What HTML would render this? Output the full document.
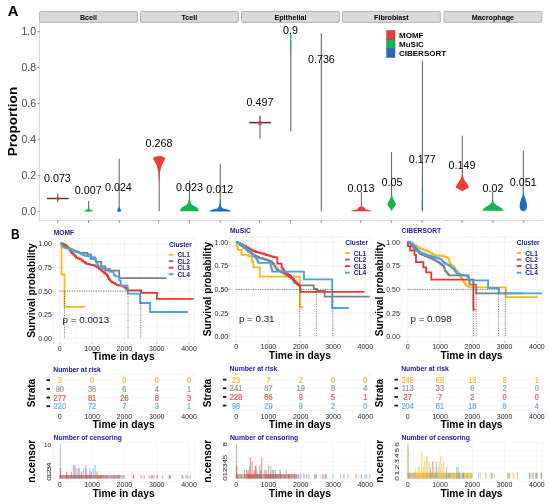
<!DOCTYPE html>
<html><head><meta charset="utf-8"><style>
html,body{margin:0;padding:0;background:#fff;}
svg{display:block;font-family:"Liberation Sans", sans-serif;filter:blur(0.45px);}
</style></head><body>
<svg width="550" height="504" viewBox="0 0 550 504">
<rect width="550" height="504" fill="#fff"/>
<text x="7.80" y="15.60" font-size="14.8" font-weight="bold" fill="#000" text-anchor="start">A</text>
<line x1="39.40" y1="22.90" x2="39.40" y2="220.60" stroke="#cfcfcf" stroke-width="0.9"/>
<line x1="37.60" y1="211.70" x2="39.40" y2="211.70" stroke="#555" stroke-width="0.7"/>
<text transform="translate(36.00,215.30) scale(0.92,1)" font-size="11.4" fill="#4a4a4a" text-anchor="end">0.0</text>
<line x1="37.60" y1="175.66" x2="39.40" y2="175.66" stroke="#555" stroke-width="0.7"/>
<text transform="translate(36.00,179.26) scale(0.92,1)" font-size="11.4" fill="#4a4a4a" text-anchor="end">0.2</text>
<line x1="37.60" y1="139.62" x2="39.40" y2="139.62" stroke="#555" stroke-width="0.7"/>
<text transform="translate(36.00,143.22) scale(0.92,1)" font-size="11.4" fill="#4a4a4a" text-anchor="end">0.4</text>
<line x1="37.60" y1="103.58" x2="39.40" y2="103.58" stroke="#555" stroke-width="0.7"/>
<text transform="translate(36.00,107.18) scale(0.92,1)" font-size="11.4" fill="#4a4a4a" text-anchor="end">0.6</text>
<line x1="37.60" y1="67.54" x2="39.40" y2="67.54" stroke="#555" stroke-width="0.7"/>
<text transform="translate(36.00,71.14) scale(0.92,1)" font-size="11.4" fill="#4a4a4a" text-anchor="end">0.8</text>
<line x1="37.60" y1="31.50" x2="39.40" y2="31.50" stroke="#555" stroke-width="0.7"/>
<text transform="translate(36.00,35.10) scale(0.92,1)" font-size="11.4" fill="#4a4a4a" text-anchor="end">1.0</text>
<text x="16.80" y="121.50" font-size="13.6" font-weight="bold" fill="#000" text-anchor="middle" transform="rotate(-90 16.8 121.5)">Proportion</text>
<rect x="39.60" y="11.40" width="97.80" height="11.00" fill="#d9d9d9" stroke="#a6a6a6" stroke-width="0.8" rx="1"/>
<text x="88.50" y="19.80" font-size="7.2" font-weight="bold" fill="#000" text-anchor="middle">Bcell</text>
<line x1="39.20" y1="220.60" x2="137.80" y2="220.60" stroke="#cfcfcf" stroke-width="0.9"/>
<line x1="57.70" y1="220.60" x2="57.70" y2="222.80" stroke="#555" stroke-width="0.7"/>
<line x1="88.50" y1="220.60" x2="88.50" y2="222.80" stroke="#555" stroke-width="0.7"/>
<line x1="119.30" y1="220.60" x2="119.30" y2="222.80" stroke="#555" stroke-width="0.7"/>
<rect x="140.50" y="11.40" width="97.80" height="11.00" fill="#d9d9d9" stroke="#a6a6a6" stroke-width="0.8" rx="1"/>
<text x="189.40" y="19.80" font-size="7.2" font-weight="bold" fill="#000" text-anchor="middle">Tcell</text>
<line x1="140.10" y1="220.60" x2="238.70" y2="220.60" stroke="#cfcfcf" stroke-width="0.9"/>
<line x1="158.60" y1="220.60" x2="158.60" y2="222.80" stroke="#555" stroke-width="0.7"/>
<line x1="189.40" y1="220.60" x2="189.40" y2="222.80" stroke="#555" stroke-width="0.7"/>
<line x1="220.20" y1="220.60" x2="220.20" y2="222.80" stroke="#555" stroke-width="0.7"/>
<rect x="241.50" y="11.40" width="97.80" height="11.00" fill="#d9d9d9" stroke="#a6a6a6" stroke-width="0.8" rx="1"/>
<text x="290.40" y="19.80" font-size="7.2" font-weight="bold" fill="#000" text-anchor="middle">Epithelial</text>
<line x1="241.10" y1="220.60" x2="339.70" y2="220.60" stroke="#cfcfcf" stroke-width="0.9"/>
<line x1="259.60" y1="220.60" x2="259.60" y2="222.80" stroke="#555" stroke-width="0.7"/>
<line x1="290.40" y1="220.60" x2="290.40" y2="222.80" stroke="#555" stroke-width="0.7"/>
<line x1="321.20" y1="220.60" x2="321.20" y2="222.80" stroke="#555" stroke-width="0.7"/>
<rect x="342.50" y="11.40" width="97.80" height="11.00" fill="#d9d9d9" stroke="#a6a6a6" stroke-width="0.8" rx="1"/>
<text x="391.40" y="19.80" font-size="7.2" font-weight="bold" fill="#000" text-anchor="middle">Fibroblast</text>
<line x1="342.10" y1="220.60" x2="440.70" y2="220.60" stroke="#cfcfcf" stroke-width="0.9"/>
<line x1="360.60" y1="220.60" x2="360.60" y2="222.80" stroke="#555" stroke-width="0.7"/>
<line x1="391.40" y1="220.60" x2="391.40" y2="222.80" stroke="#555" stroke-width="0.7"/>
<line x1="422.20" y1="220.60" x2="422.20" y2="222.80" stroke="#555" stroke-width="0.7"/>
<rect x="444.00" y="11.40" width="97.80" height="11.00" fill="#d9d9d9" stroke="#a6a6a6" stroke-width="0.8" rx="1"/>
<text x="492.90" y="19.80" font-size="7.2" font-weight="bold" fill="#000" text-anchor="middle">Macrophage</text>
<line x1="443.60" y1="220.60" x2="542.20" y2="220.60" stroke="#cfcfcf" stroke-width="0.9"/>
<line x1="462.10" y1="220.60" x2="462.10" y2="222.80" stroke="#555" stroke-width="0.7"/>
<line x1="492.90" y1="220.60" x2="492.90" y2="222.80" stroke="#555" stroke-width="0.7"/>
<line x1="523.70" y1="220.60" x2="523.70" y2="222.80" stroke="#555" stroke-width="0.7"/>
<line x1="57.80" y1="193.60" x2="57.80" y2="202.40" stroke="#5c5c5c" stroke-width="1.0"/>
<line x1="46.90" y1="198.50" x2="68.70" y2="198.50" stroke="#5a2c2c" stroke-width="1.4"/>
<path d="M55.8,198.5 L57.8,196.3 L59.8,198.5 L57.8,200.7 Z" fill="#EE3B33" stroke="none" stroke-width="1"/>
<line x1="88.60" y1="201.00" x2="88.60" y2="211.30" stroke="#5c5c5c" stroke-width="1.0"/>
<path d="M83.8,211.6 Q85.5,210.2 87.4,209.3 Q88.4,208.5 88.45,207 L88.6,205.5 L88.75,207 Q88.8,208.5 89.8,209.3 Q91.7,210.2 93.4,211.6 Z" fill="#12B64F" stroke="none" stroke-width="1" stroke="#333" stroke-width="0.45"/>
<line x1="119.20" y1="158.60" x2="119.20" y2="211.30" stroke="#5c5c5c" stroke-width="1.0"/>
<path d="M119.1,206.3 Q119.3,208 120.6,209.3 Q121.5,210.5 120.6,211.4 Q119.1,212 117.6,211.4 Q116.7,210.5 117.6,209.3 Q118.9,208 119.1,206.3 Z" fill="#1B6DC2" stroke="none" stroke-width="1" stroke="#333" stroke-width="0.45"/>
<text transform="translate(57.40,181.80) scale(0.96,1)" font-size="11.2" fill="#000" text-anchor="middle">0.073</text>
<text transform="translate(88.30,194.20) scale(0.96,1)" font-size="11.2" fill="#000" text-anchor="middle">0.007</text>
<text transform="translate(118.40,191.00) scale(0.96,1)" font-size="11.2" fill="#000" text-anchor="middle">0.024</text>
<line x1="159.20" y1="170.00" x2="159.20" y2="211.20" stroke="#5c5c5c" stroke-width="1.0"/>
<path d="M153.0,158.5 Q154.5,156.2 159.2,156.0 Q163.9,156.2 165.3,158.5 Q161.5,164 160.0,172 L159.5,181 L158.9,181 L158.4,172 Q156.9,164 153.0,158.5 Z" fill="#EE3B33" stroke="none" stroke-width="1" stroke="#333" stroke-width="0.45"/>
<line x1="189.40" y1="180.40" x2="189.40" y2="211.00" stroke="#5c5c5c" stroke-width="1.0"/>
<path d="M180.0,211.2 Q180.5,207 186.5,205 Q188.8,203 189.0,196 L189.4,190 L189.8,196 Q190.0,203 192.3,205 Q198.3,207 198.8,211.2 Z" fill="#12B64F" stroke="none" stroke-width="1" stroke="#333" stroke-width="0.45"/>
<line x1="220.20" y1="164.00" x2="220.20" y2="211.20" stroke="#5c5c5c" stroke-width="1.0"/>
<path d="M209.4,211.4 Q211.5,209.3 217.5,208.6 Q219.6,207.2 219.8,203 L220.2,198 L220.6,203 Q220.8,207.2 222.9,208.6 Q229,209.3 231.0,211.4 Z" fill="#1B6DC2" stroke="none" stroke-width="1" stroke="#333" stroke-width="0.45"/>
<text transform="translate(159.00,147.00) scale(0.96,1)" font-size="11.2" fill="#000" text-anchor="middle">0.268</text>
<text transform="translate(189.50,190.80) scale(0.96,1)" font-size="11.2" fill="#000" text-anchor="middle">0.023</text>
<text transform="translate(219.70,193.30) scale(0.96,1)" font-size="11.2" fill="#000" text-anchor="middle">0.012</text>
<line x1="260.00" y1="122.60" x2="260.00" y2="138.70" stroke="#5c5c5c" stroke-width="1.0"/>
<line x1="260.00" y1="115.80" x2="260.00" y2="124.00" stroke="#8a2b2b" stroke-width="1.3"/>
<line x1="249.30" y1="122.60" x2="270.90" y2="122.60" stroke="#6a2626" stroke-width="1.5"/>
<path d="M257.8,124.8 L260,120.8 L262.2,124.8 Z" fill="#EE3B33" stroke="none" stroke-width="1"/>
<line x1="290.80" y1="40.00" x2="290.80" y2="131.60" stroke="#5c5c5c" stroke-width="1.0"/>
<path d="M290.1,35 Q290.6,33.8 290.8,33.8 Q291.0,33.8 291.5,35 L291.2,50 L290.8,56 L290.4,50 Z" fill="#12B64F" stroke="none" stroke-width="1"/>
<line x1="321.30" y1="33.50" x2="321.30" y2="211.20" stroke="#4a4a4a" stroke-width="0.9"/>
<text transform="translate(260.00,106.00) scale(0.96,1)" font-size="11.2" fill="#000" text-anchor="middle">0.497</text>
<text transform="translate(290.40,33.90) scale(0.96,1)" font-size="11.2" fill="#000" text-anchor="middle">0.9</text>
<text transform="translate(321.40,63.30) scale(0.96,1)" font-size="11.2" fill="#000" text-anchor="middle">0.736</text>
<line x1="361.40" y1="192.00" x2="361.40" y2="210.50" stroke="#5c5c5c" stroke-width="1.0"/>
<path d="M350.4,211.3 Q352,210.2 357,209.6 Q358.5,206.4 361.4,206.2 Q364.3,206.4 365.8,209.6 Q370.8,210.2 372.4,211.3 Z" fill="#EE3B33" stroke="none" stroke-width="1" stroke="#333" stroke-width="0.45"/>
<line x1="391.60" y1="152.00" x2="391.60" y2="210.50" stroke="#5c5c5c" stroke-width="1.0"/>
<path d="M391.6,193.5 Q392.2,198 395.2,202.5 Q396.2,204 395.5,205.5 Q393,208 391.6,211 Q390.2,208 387.7,205.5 Q387,204 388,202.5 Q391,198 391.6,193.5 Z" fill="#12B64F" stroke="none" stroke-width="1" stroke="#333" stroke-width="0.45"/>
<line x1="422.40" y1="60.70" x2="422.40" y2="211.20" stroke="#5c5c5c" stroke-width="1.0"/>
<path d="M421.8,211.3 L421.9,190 L422.3,170 L422.6,170 L422.9,190 L423.0,211.3 Z" fill="#1B6DC2" stroke="none" stroke-width="1"/>
<text transform="translate(361.00,192.40) scale(0.96,1)" font-size="11.2" fill="#000" text-anchor="middle">0.013</text>
<text transform="translate(392.00,186.00) scale(0.96,1)" font-size="11.2" fill="#000" text-anchor="middle">0.05</text>
<text transform="translate(422.30,163.00) scale(0.96,1)" font-size="11.2" fill="#000" text-anchor="middle">0.177</text>
<line x1="462.30" y1="135.60" x2="462.30" y2="175.00" stroke="#5c5c5c" stroke-width="1.0"/>
<path d="M462.3,171 Q462.8,178 465.5,181.5 Q468.8,185.5 468.6,188 Q465,189.5 462.3,191.2 Q459.6,189.5 456,188 Q455.8,185.5 459.1,181.5 Q461.8,178 462.3,171 Z" fill="#EE3B33" stroke="none" stroke-width="1" stroke="#333" stroke-width="0.45"/>
<line x1="492.70" y1="191.90" x2="492.70" y2="205.00" stroke="#5c5c5c" stroke-width="1.0"/>
<path d="M482.2,210.8 Q483,208 488.5,205.5 Q492,203.5 492.4,200.5 L492.7,199 L493.0,200.5 Q493.4,203.5 496.9,205.5 Q502.4,208 503.6,210.8 Z" fill="#12B64F" stroke="none" stroke-width="1" stroke="#333" stroke-width="0.45"/>
<line x1="523.30" y1="150.80" x2="523.30" y2="192.00" stroke="#5c5c5c" stroke-width="1.0"/>
<path d="M523.3,188.5 Q523.6,195 525.6,199.5 Q527.6,204 526.8,208 Q525.5,211.3 523.3,211.3 Q521.1,211.3 519.8,208 Q519,204 521,199.5 Q523,195 523.3,188.5 Z" fill="#1B6DC2" stroke="none" stroke-width="1" stroke="#333" stroke-width="0.45"/>
<text transform="translate(462.00,169.00) scale(0.96,1)" font-size="11.2" fill="#000" text-anchor="middle">0.149</text>
<text transform="translate(492.90,191.90) scale(0.96,1)" font-size="11.2" fill="#000" text-anchor="middle">0.02</text>
<text transform="translate(523.20,186.25) scale(0.96,1)" font-size="11.2" fill="#000" text-anchor="middle">0.051</text>
<rect x="386.60" y="30.40" width="8.40" height="9.05" fill="#EE3B33" stroke="#555" stroke-width="0.45"/>
<text x="399.00" y="37.90" font-size="8.0" font-weight="bold" fill="#000" text-anchor="start">MOMF</text>
<rect x="386.60" y="39.45" width="8.40" height="9.05" fill="#12B64F" stroke="#555" stroke-width="0.45"/>
<text x="399.00" y="46.95" font-size="8.0" font-weight="bold" fill="#000" text-anchor="start">MuSiC</text>
<rect x="386.60" y="48.50" width="8.40" height="9.05" fill="#1B6DC2" stroke="#555" stroke-width="0.45"/>
<text x="399.00" y="56.00" font-size="8.0" font-weight="bold" fill="#000" text-anchor="start">CIBERSORT</text>
<text transform="translate(10.9,239.0) scale(0.86,1)" font-size="14" font-weight="bold">B</text>
<text transform="translate(53.70,234.90) scale(0.92,1)" font-size="7.3" font-weight="bold" fill="#1a1aa6" text-anchor="start">MOMF</text>
<rect x="53.20" y="238.50" width="141.00" height="104.50" fill="#ffffff" stroke="#ececec" stroke-width="0.6"/>
<line x1="75.95" y1="238.50" x2="75.95" y2="343.00" stroke="#f5f5f5" stroke-width="0.5"/>
<line x1="108.25" y1="238.50" x2="108.25" y2="343.00" stroke="#f5f5f5" stroke-width="0.5"/>
<line x1="140.55" y1="238.50" x2="140.55" y2="343.00" stroke="#f5f5f5" stroke-width="0.5"/>
<line x1="172.85" y1="238.50" x2="172.85" y2="343.00" stroke="#f5f5f5" stroke-width="0.5"/>
<line x1="53.20" y1="326.49" x2="194.20" y2="326.49" stroke="#f5f5f5" stroke-width="0.5"/>
<line x1="53.20" y1="302.86" x2="194.20" y2="302.86" stroke="#f5f5f5" stroke-width="0.5"/>
<line x1="53.20" y1="279.24" x2="194.20" y2="279.24" stroke="#f5f5f5" stroke-width="0.5"/>
<line x1="53.20" y1="255.61" x2="194.20" y2="255.61" stroke="#f5f5f5" stroke-width="0.5"/>
<line x1="59.80" y1="238.50" x2="59.80" y2="343.00" stroke="#ededed" stroke-width="0.7"/>
<line x1="92.10" y1="238.50" x2="92.10" y2="343.00" stroke="#ededed" stroke-width="0.7"/>
<line x1="124.40" y1="238.50" x2="124.40" y2="343.00" stroke="#ededed" stroke-width="0.7"/>
<line x1="156.70" y1="238.50" x2="156.70" y2="343.00" stroke="#ededed" stroke-width="0.7"/>
<line x1="189.00" y1="238.50" x2="189.00" y2="343.00" stroke="#ededed" stroke-width="0.7"/>
<line x1="53.20" y1="338.30" x2="194.20" y2="338.30" stroke="#ededed" stroke-width="0.7"/>
<line x1="53.20" y1="314.68" x2="194.20" y2="314.68" stroke="#ededed" stroke-width="0.7"/>
<line x1="53.20" y1="291.05" x2="194.20" y2="291.05" stroke="#ededed" stroke-width="0.7"/>
<line x1="53.20" y1="267.43" x2="194.20" y2="267.43" stroke="#ededed" stroke-width="0.7"/>
<line x1="53.20" y1="243.80" x2="194.20" y2="243.80" stroke="#ededed" stroke-width="0.7"/>
<text x="51.90" y="340.80" font-size="7.0" fill="#262626" text-anchor="end">0.00</text>
<line x1="51.80" y1="338.30" x2="53.20" y2="338.30" stroke="#777" stroke-width="0.5"/>
<text x="51.90" y="317.18" font-size="7.0" fill="#262626" text-anchor="end">0.25</text>
<line x1="51.80" y1="314.68" x2="53.20" y2="314.68" stroke="#777" stroke-width="0.5"/>
<text x="51.90" y="293.55" font-size="7.0" fill="#262626" text-anchor="end">0.50</text>
<line x1="51.80" y1="291.05" x2="53.20" y2="291.05" stroke="#777" stroke-width="0.5"/>
<text x="51.90" y="269.93" font-size="7.0" fill="#262626" text-anchor="end">0.75</text>
<line x1="51.80" y1="267.43" x2="53.20" y2="267.43" stroke="#777" stroke-width="0.5"/>
<text x="51.90" y="246.30" font-size="7.0" fill="#262626" text-anchor="end">1.00</text>
<line x1="51.80" y1="243.80" x2="53.20" y2="243.80" stroke="#777" stroke-width="0.5"/>
<text x="59.80" y="350.60" font-size="7.0" fill="#262626" text-anchor="middle">0</text>
<line x1="59.80" y1="343.00" x2="59.80" y2="344.30" stroke="#777" stroke-width="0.5"/>
<text x="92.10" y="350.60" font-size="7.0" fill="#262626" text-anchor="middle">1000</text>
<line x1="92.10" y1="343.00" x2="92.10" y2="344.30" stroke="#777" stroke-width="0.5"/>
<text x="124.40" y="350.60" font-size="7.0" fill="#262626" text-anchor="middle">2000</text>
<line x1="124.40" y1="343.00" x2="124.40" y2="344.30" stroke="#777" stroke-width="0.5"/>
<text x="156.70" y="350.60" font-size="7.0" fill="#262626" text-anchor="middle">3000</text>
<line x1="156.70" y1="343.00" x2="156.70" y2="344.30" stroke="#777" stroke-width="0.5"/>
<text x="189.00" y="350.60" font-size="7.0" fill="#262626" text-anchor="middle">4000</text>
<line x1="189.00" y1="343.00" x2="189.00" y2="344.30" stroke="#777" stroke-width="0.5"/>
<text x="123.60" y="360.30" font-size="10.3" font-weight="bold" fill="#000" text-anchor="middle">Time in days</text>
<text x="35.00" y="290.60" font-size="10.2" font-weight="bold" fill="#000" text-anchor="middle" transform="rotate(-90 35.0 290.6)">Survival probability</text>
<path d="M60.50,243.50 H61.60 V243.50 H61.60 V274.50 H64.50 V274.50 H64.50 V306.80 H85.10 V306.80" fill="none" stroke="#FDB913" stroke-width="1.8" stroke-linejoin="miter"/>
<path d="M60.50,243.50 H62.30 V245.80 H63.75 V246.70 H65.20 V247.60 H66.63 V247.93 H68.07 V248.27 H69.50 V248.60 H70.97 V249.33 H72.43 V250.07 H73.90 V250.80 H75.60 V251.50 H77.30 V252.20 H79.00 V252.90 H87.40 V252.90 H87.40 V254.40 H90.90 V254.40 H90.90 V258.90 H95.90 V258.90 H95.90 V261.90 H101.30 V261.90 H101.30 V266.30 H105.30 V266.30 H105.30 V270.60 H119.20 V270.60 H119.20 V278.20 H166.50 V278.20" fill="none" stroke="#7f7f7f" stroke-width="1.8" stroke-linejoin="miter"/>
<path d="M60.50,243.50 H62.50 V244.20 H64.50 V244.90 H65.95 V246.20 H67.40 V247.50 H68.85 V249.50 H70.30 V251.50 H71.75 V253.10 H73.20 V254.70 H74.65 V256.15 H76.10 V257.60 H77.90 V258.35 H79.70 V259.10 H81.55 V260.55 H83.40 V262.00 H84.85 V262.90 H86.30 V263.80 H88.00 V264.17 H89.70 V264.53 H91.40 V264.90 H92.65 V265.10 H93.90 V265.30 H95.40 V266.30 H96.90 V267.30 H98.85 V268.80 H100.80 V270.30 H102.30 V271.55 H103.80 V272.80 H105.30 V273.80 H106.80 V274.80 H107.47 V276.27 H108.13 V277.73 H108.80 V279.20 H109.80 V280.45 H110.80 V281.70 H112.25 V282.45 H113.70 V283.20 H115.20 V284.20 H116.70 V285.20 H118.37 V285.37 H120.03 V285.53 H121.70 V285.70 H123.15 V286.70 H124.60 V287.70 H126.15 V289.05 H127.70 V290.40 H141.20 V290.40 H141.20 V292.90 H156.90 V292.90 H156.90 V298.80 H193.50 V298.80" fill="none" stroke="#EA3430" stroke-width="1.8" stroke-linejoin="miter"/>
<path d="M60.50,243.50 H61.40 V244.95 H62.30 V246.40 H63.75 V247.30 H65.20 V248.20 H66.63 V248.43 H68.07 V248.67 H69.50 V248.90 H70.97 V249.77 H72.43 V250.63 H73.90 V251.50 H75.70 V251.85 H77.50 V252.20 H79.35 V253.30 H81.20 V254.40 H82.63 V254.87 H84.07 V255.33 H85.50 V255.80 H86.97 V256.12 H88.45 V256.45 H89.93 V256.78 H91.40 V257.10 H94.90 V257.10 H94.90 V259.90 H95.90 V261.40 H96.90 V262.90 H97.40 V264.35 H97.90 V265.80 H99.53 V266.80 H101.17 V267.80 H102.80 V268.80 H109.80 V268.80 H109.80 V271.80 H113.70 V271.80 H113.70 V274.80 H115.20 V276.30 H119.20 V276.30 H119.20 V280.70 H120.70 V280.70 H120.70 V285.70 H127.70 V285.70 H127.70 V293.70 H140.00 V293.70 H140.00 V303.00 H150.10 V303.00 H150.10 V312.00 H187.90 V312.00" fill="none" stroke="#4AA1E2" stroke-width="1.8" stroke-linejoin="miter"/>
<line x1="59.80" y1="291.05" x2="141.00" y2="291.05" stroke="#555" stroke-width="0.8" stroke-dasharray="1.1,1.3"/>
<line x1="64.50" y1="291.05" x2="64.50" y2="338.30" stroke="#555" stroke-width="0.8" stroke-dasharray="1.1,1.3"/>
<line x1="128.00" y1="291.05" x2="128.00" y2="338.30" stroke="#555" stroke-width="0.8" stroke-dasharray="1.1,1.3"/>
<line x1="140.70" y1="291.05" x2="140.70" y2="338.30" stroke="#555" stroke-width="0.8" stroke-dasharray="1.1,1.3"/>
<rect x="166.70" y="239.10" width="27.30" height="38.50" fill="#ffffff" stroke="none" stroke-width="0"/>
<text transform="translate(168.90,247.00) scale(0.95,1)" font-size="7.0" font-weight="bold" fill="#1a1aa6" text-anchor="start">Cluster</text>
<line x1="168.70" y1="254.60" x2="173.50" y2="254.60" stroke="#FDB913" stroke-width="1.9"/>
<text transform="translate(177.40,257.30) scale(0.95,1)" font-size="7.0" font-weight="bold" fill="#1a1aa6" text-anchor="start">CL1</text>
<line x1="168.70" y1="261.15" x2="173.50" y2="261.15" stroke="#7f7f7f" stroke-width="1.9"/>
<text transform="translate(177.40,263.85) scale(0.95,1)" font-size="7.0" font-weight="bold" fill="#1a1aa6" text-anchor="start">CL2</text>
<line x1="168.70" y1="267.70" x2="173.50" y2="267.70" stroke="#EA3430" stroke-width="1.9"/>
<text transform="translate(177.40,270.40) scale(0.95,1)" font-size="7.0" font-weight="bold" fill="#1a1aa6" text-anchor="start">CL3</text>
<line x1="168.70" y1="274.25" x2="173.50" y2="274.25" stroke="#4AA1E2" stroke-width="1.9"/>
<text transform="translate(177.40,276.95) scale(0.95,1)" font-size="7.0" font-weight="bold" fill="#1a1aa6" text-anchor="start">CL4</text>
<text x="62.60" y="323.20" font-size="9.8" fill="#1a1a1a" text-anchor="start">p = 0.0013</text>
<text x="53.30" y="371.90" font-size="6.8" font-weight="bold" fill="#1a1aa6" text-anchor="start">Number at risk</text>
<rect x="52.70" y="374.70" width="141.80" height="36.30" fill="#ffffff" stroke="#ededed" stroke-width="0.5"/>
<line x1="59.80" y1="374.70" x2="59.80" y2="411.00" stroke="#f0f0f0" stroke-width="0.6"/>
<line x1="92.10" y1="374.70" x2="92.10" y2="411.00" stroke="#f0f0f0" stroke-width="0.6"/>
<line x1="124.40" y1="374.70" x2="124.40" y2="411.00" stroke="#f0f0f0" stroke-width="0.6"/>
<line x1="156.70" y1="374.70" x2="156.70" y2="411.00" stroke="#f0f0f0" stroke-width="0.6"/>
<line x1="189.00" y1="374.70" x2="189.00" y2="411.00" stroke="#f0f0f0" stroke-width="0.6"/>
<line x1="52.70" y1="380.20" x2="194.50" y2="380.20" stroke="#f0f0f0" stroke-width="0.6"/>
<rect x="46.60" y="379.30" width="3.40" height="1.80" fill="#111" stroke="none" stroke-width="0"/>
<text transform="translate(59.80,383.20) scale(0.88,1)" font-size="8.5" fill="#F5BE2A" text-anchor="middle" stroke="#F5BE2A" stroke-width="0.25">3</text>
<text transform="translate(92.10,383.20) scale(0.88,1)" font-size="8.5" fill="#F5BE2A" text-anchor="middle" stroke="#F5BE2A" stroke-width="0.25">0</text>
<text transform="translate(124.40,383.20) scale(0.88,1)" font-size="8.5" fill="#F5BE2A" text-anchor="middle" stroke="#F5BE2A" stroke-width="0.25">0</text>
<text transform="translate(156.70,383.20) scale(0.88,1)" font-size="8.5" fill="#F5BE2A" text-anchor="middle" stroke="#F5BE2A" stroke-width="0.25">0</text>
<text transform="translate(189.00,383.20) scale(0.88,1)" font-size="8.5" fill="#F5BE2A" text-anchor="middle" stroke="#F5BE2A" stroke-width="0.25">0</text>
<line x1="52.70" y1="388.87" x2="194.50" y2="388.87" stroke="#f0f0f0" stroke-width="0.6"/>
<rect x="46.60" y="387.97" width="3.40" height="1.80" fill="#111" stroke="none" stroke-width="0"/>
<text transform="translate(59.80,391.87) scale(0.88,1)" font-size="8.5" fill="#9a9a9a" text-anchor="middle" stroke="#9a9a9a" stroke-width="0.25">90</text>
<text transform="translate(92.10,391.87) scale(0.88,1)" font-size="8.5" fill="#9a9a9a" text-anchor="middle" stroke="#9a9a9a" stroke-width="0.25">36</text>
<text transform="translate(124.40,391.87) scale(0.88,1)" font-size="8.5" fill="#9a9a9a" text-anchor="middle" stroke="#9a9a9a" stroke-width="0.25">6</text>
<text transform="translate(156.70,391.87) scale(0.88,1)" font-size="8.5" fill="#9a9a9a" text-anchor="middle" stroke="#9a9a9a" stroke-width="0.25">4</text>
<text transform="translate(189.00,391.87) scale(0.88,1)" font-size="8.5" fill="#9a9a9a" text-anchor="middle" stroke="#9a9a9a" stroke-width="0.25">1</text>
<line x1="52.70" y1="397.54" x2="194.50" y2="397.54" stroke="#f0f0f0" stroke-width="0.6"/>
<rect x="46.60" y="396.64" width="3.40" height="1.80" fill="#111" stroke="none" stroke-width="0"/>
<text transform="translate(59.80,400.54) scale(0.88,1)" font-size="8.5" fill="#EE5A55" text-anchor="middle" stroke="#EE5A55" stroke-width="0.25">277</text>
<text transform="translate(92.10,400.54) scale(0.88,1)" font-size="8.5" fill="#EE5A55" text-anchor="middle" stroke="#EE5A55" stroke-width="0.25">81</text>
<text transform="translate(124.40,400.54) scale(0.88,1)" font-size="8.5" fill="#EE5A55" text-anchor="middle" stroke="#EE5A55" stroke-width="0.25">26</text>
<text transform="translate(156.70,400.54) scale(0.88,1)" font-size="8.5" fill="#EE5A55" text-anchor="middle" stroke="#EE5A55" stroke-width="0.25">8</text>
<text transform="translate(189.00,400.54) scale(0.88,1)" font-size="8.5" fill="#EE5A55" text-anchor="middle" stroke="#EE5A55" stroke-width="0.25">3</text>
<line x1="52.70" y1="406.21" x2="194.50" y2="406.21" stroke="#f0f0f0" stroke-width="0.6"/>
<rect x="46.60" y="405.31" width="3.40" height="1.80" fill="#111" stroke="none" stroke-width="0"/>
<text transform="translate(59.80,409.21) scale(0.88,1)" font-size="8.5" fill="#6FB2E8" text-anchor="middle" stroke="#6FB2E8" stroke-width="0.25">220</text>
<text transform="translate(92.10,409.21) scale(0.88,1)" font-size="8.5" fill="#6FB2E8" text-anchor="middle" stroke="#6FB2E8" stroke-width="0.25">72</text>
<text transform="translate(124.40,409.21) scale(0.88,1)" font-size="8.5" fill="#6FB2E8" text-anchor="middle" stroke="#6FB2E8" stroke-width="0.25">7</text>
<text transform="translate(156.70,409.21) scale(0.88,1)" font-size="8.5" fill="#6FB2E8" text-anchor="middle" stroke="#6FB2E8" stroke-width="0.25">3</text>
<text transform="translate(189.00,409.21) scale(0.88,1)" font-size="8.5" fill="#6FB2E8" text-anchor="middle" stroke="#6FB2E8" stroke-width="0.25">1</text>
<text x="59.80" y="418.70" font-size="7.0" fill="#262626" text-anchor="middle">0</text>
<text x="92.10" y="418.70" font-size="7.0" fill="#262626" text-anchor="middle">1000</text>
<text x="124.40" y="418.70" font-size="7.0" fill="#262626" text-anchor="middle">2000</text>
<text x="156.70" y="418.70" font-size="7.0" fill="#262626" text-anchor="middle">3000</text>
<text x="189.00" y="418.70" font-size="7.0" fill="#262626" text-anchor="middle">4000</text>
<text x="35.10" y="393.00" font-size="10.0" font-weight="bold" fill="#000" text-anchor="middle" transform="rotate(-90 35.1 393.0)">Strata</text>
<text x="123.60" y="427.70" font-size="10.3" font-weight="bold" fill="#000" text-anchor="middle">Time in days</text>
<text x="53.60" y="439.80" font-size="6.8" font-weight="bold" fill="#1a1aa6" text-anchor="start">Number of censoring</text>
<rect x="53.60" y="442.70" width="140.90" height="38.80" fill="#ffffff" stroke="#ededed" stroke-width="0.5"/>
<line x1="59.80" y1="442.70" x2="59.80" y2="481.50" stroke="#f0f0f0" stroke-width="0.6"/>
<line x1="92.10" y1="442.70" x2="92.10" y2="481.50" stroke="#f0f0f0" stroke-width="0.6"/>
<line x1="124.40" y1="442.70" x2="124.40" y2="481.50" stroke="#f0f0f0" stroke-width="0.6"/>
<line x1="156.70" y1="442.70" x2="156.70" y2="481.50" stroke="#f0f0f0" stroke-width="0.6"/>
<line x1="189.00" y1="442.70" x2="189.00" y2="481.50" stroke="#f0f0f0" stroke-width="0.6"/>
<line x1="53.20" y1="478.50" x2="194.20" y2="478.50" stroke="#f0f0f0" stroke-width="0.5"/>
<line x1="53.20" y1="475.10" x2="194.20" y2="475.10" stroke="#f0f0f0" stroke-width="0.5"/>
<line x1="53.20" y1="471.70" x2="194.20" y2="471.70" stroke="#f0f0f0" stroke-width="0.5"/>
<line x1="53.20" y1="468.30" x2="194.20" y2="468.30" stroke="#f0f0f0" stroke-width="0.5"/>
<line x1="53.20" y1="464.90" x2="194.20" y2="464.90" stroke="#f0f0f0" stroke-width="0.5"/>
<text x="51.00" y="446.70" font-size="6.2" fill="#222" text-anchor="end">10</text>
<text transform="translate(50.90,478.50) rotate(-90) scale(1.6,1)" font-size="5.3" fill="#1a1a1a" text-anchor="middle">0</text>
<text transform="translate(50.90,475.10) rotate(-90) scale(1.6,1)" font-size="5.3" fill="#1a1a1a" text-anchor="middle">1</text>
<text transform="translate(50.90,471.70) rotate(-90) scale(1.6,1)" font-size="5.3" fill="#1a1a1a" text-anchor="middle">2</text>
<text transform="translate(50.90,468.30) rotate(-90) scale(1.6,1)" font-size="5.3" fill="#1a1a1a" text-anchor="middle">3</text>
<text transform="translate(50.90,464.90) rotate(-90) scale(1.6,1)" font-size="5.3" fill="#1a1a1a" text-anchor="middle">4</text>
<rect x="59.20" y="475.10" width="1.20" height="3.40" fill="#EA3430" stroke="none" stroke-width="0" fill-opacity="0.5"/>
<rect x="59.81" y="475.10" width="1.20" height="3.40" fill="#7f7f7f" stroke="none" stroke-width="0" fill-opacity="0.5"/>
<rect x="60.38" y="475.10" width="1.20" height="3.40" fill="#EA3430" stroke="none" stroke-width="0" fill-opacity="0.5"/>
<rect x="61.00" y="475.10" width="1.20" height="3.40" fill="#EA3430" stroke="none" stroke-width="0" fill-opacity="0.5"/>
<rect x="61.59" y="475.10" width="1.20" height="3.40" fill="#4AA1E2" stroke="none" stroke-width="0" fill-opacity="0.5"/>
<rect x="62.32" y="475.10" width="1.20" height="3.40" fill="#EA3430" stroke="none" stroke-width="0" fill-opacity="0.5"/>
<rect x="62.80" y="475.10" width="1.20" height="3.40" fill="#EA3430" stroke="none" stroke-width="0" fill-opacity="0.5"/>
<rect x="63.54" y="475.10" width="1.20" height="3.40" fill="#4AA1E2" stroke="none" stroke-width="0" fill-opacity="0.5"/>
<rect x="63.89" y="475.10" width="1.20" height="3.40" fill="#7f7f7f" stroke="none" stroke-width="0" fill-opacity="0.5"/>
<rect x="64.71" y="475.10" width="1.20" height="3.40" fill="#4AA1E2" stroke="none" stroke-width="0" fill-opacity="0.5"/>
<rect x="65.35" y="475.10" width="1.20" height="3.40" fill="#EA3430" stroke="none" stroke-width="0" fill-opacity="0.5"/>
<rect x="65.68" y="475.10" width="1.20" height="3.40" fill="#EA3430" stroke="none" stroke-width="0" fill-opacity="0.5"/>
<rect x="66.04" y="475.10" width="1.20" height="3.40" fill="#EA3430" stroke="none" stroke-width="0" fill-opacity="0.5"/>
<rect x="66.48" y="475.10" width="1.20" height="3.40" fill="#EA3430" stroke="none" stroke-width="0" fill-opacity="0.5"/>
<rect x="67.05" y="475.10" width="1.20" height="3.40" fill="#EA3430" stroke="none" stroke-width="0" fill-opacity="0.5"/>
<rect x="67.81" y="475.10" width="1.20" height="3.40" fill="#EA3430" stroke="none" stroke-width="0" fill-opacity="0.5"/>
<rect x="68.46" y="475.10" width="1.20" height="3.40" fill="#EA3430" stroke="none" stroke-width="0" fill-opacity="0.5"/>
<rect x="69.12" y="475.10" width="1.20" height="3.40" fill="#EA3430" stroke="none" stroke-width="0" fill-opacity="0.5"/>
<rect x="69.59" y="475.10" width="1.20" height="3.40" fill="#7f7f7f" stroke="none" stroke-width="0" fill-opacity="0.5"/>
<rect x="70.43" y="475.10" width="1.20" height="3.40" fill="#4AA1E2" stroke="none" stroke-width="0" fill-opacity="0.5"/>
<rect x="71.12" y="475.10" width="1.20" height="3.40" fill="#EA3430" stroke="none" stroke-width="0" fill-opacity="0.5"/>
<rect x="71.56" y="475.10" width="1.20" height="3.40" fill="#EA3430" stroke="none" stroke-width="0" fill-opacity="0.5"/>
<rect x="71.92" y="475.10" width="1.20" height="3.40" fill="#4AA1E2" stroke="none" stroke-width="0" fill-opacity="0.5"/>
<rect x="72.45" y="475.10" width="1.20" height="3.40" fill="#4AA1E2" stroke="none" stroke-width="0" fill-opacity="0.5"/>
<rect x="72.97" y="475.10" width="1.20" height="3.40" fill="#7f7f7f" stroke="none" stroke-width="0" fill-opacity="0.5"/>
<rect x="73.73" y="475.10" width="1.20" height="3.40" fill="#EA3430" stroke="none" stroke-width="0" fill-opacity="0.5"/>
<rect x="74.16" y="475.10" width="1.20" height="3.40" fill="#7f7f7f" stroke="none" stroke-width="0" fill-opacity="0.5"/>
<rect x="74.73" y="475.10" width="1.20" height="3.40" fill="#7f7f7f" stroke="none" stroke-width="0" fill-opacity="0.5"/>
<rect x="75.26" y="475.10" width="1.20" height="3.40" fill="#EA3430" stroke="none" stroke-width="0" fill-opacity="0.5"/>
<rect x="75.91" y="475.10" width="1.20" height="3.40" fill="#4AA1E2" stroke="none" stroke-width="0" fill-opacity="0.5"/>
<rect x="76.37" y="475.10" width="1.20" height="3.40" fill="#EA3430" stroke="none" stroke-width="0" fill-opacity="0.5"/>
<rect x="76.86" y="475.10" width="1.20" height="3.40" fill="#7f7f7f" stroke="none" stroke-width="0" fill-opacity="0.5"/>
<rect x="77.58" y="475.10" width="1.20" height="3.40" fill="#EA3430" stroke="none" stroke-width="0" fill-opacity="0.5"/>
<rect x="78.03" y="475.10" width="1.20" height="3.40" fill="#EA3430" stroke="none" stroke-width="0" fill-opacity="0.5"/>
<rect x="78.38" y="475.10" width="1.20" height="3.40" fill="#4AA1E2" stroke="none" stroke-width="0" fill-opacity="0.5"/>
<rect x="78.80" y="475.10" width="1.20" height="3.40" fill="#EA3430" stroke="none" stroke-width="0" fill-opacity="0.5"/>
<rect x="79.35" y="475.10" width="1.20" height="3.40" fill="#EA3430" stroke="none" stroke-width="0" fill-opacity="0.5"/>
<rect x="80.05" y="475.10" width="1.20" height="3.40" fill="#EA3430" stroke="none" stroke-width="0" fill-opacity="0.5"/>
<rect x="80.71" y="475.10" width="1.20" height="3.40" fill="#EA3430" stroke="none" stroke-width="0" fill-opacity="0.5"/>
<rect x="81.25" y="475.10" width="1.20" height="3.40" fill="#EA3430" stroke="none" stroke-width="0" fill-opacity="0.5"/>
<rect x="81.71" y="475.10" width="1.20" height="3.40" fill="#7f7f7f" stroke="none" stroke-width="0" fill-opacity="0.5"/>
<rect x="82.45" y="475.10" width="1.20" height="3.40" fill="#EA3430" stroke="none" stroke-width="0" fill-opacity="0.5"/>
<rect x="83.23" y="475.10" width="1.20" height="3.40" fill="#EA3430" stroke="none" stroke-width="0" fill-opacity="0.5"/>
<rect x="83.76" y="475.10" width="1.20" height="3.40" fill="#4AA1E2" stroke="none" stroke-width="0" fill-opacity="0.5"/>
<rect x="84.41" y="475.10" width="1.20" height="3.40" fill="#EA3430" stroke="none" stroke-width="0" fill-opacity="0.5"/>
<rect x="85.25" y="475.10" width="1.20" height="3.40" fill="#EA3430" stroke="none" stroke-width="0" fill-opacity="0.5"/>
<rect x="85.70" y="475.10" width="1.20" height="3.40" fill="#4AA1E2" stroke="none" stroke-width="0" fill-opacity="0.5"/>
<rect x="86.19" y="475.10" width="1.20" height="3.40" fill="#EA3430" stroke="none" stroke-width="0" fill-opacity="0.5"/>
<rect x="86.56" y="475.10" width="1.20" height="3.40" fill="#EA3430" stroke="none" stroke-width="0" fill-opacity="0.5"/>
<rect x="87.18" y="475.10" width="1.20" height="3.40" fill="#EA3430" stroke="none" stroke-width="0" fill-opacity="0.5"/>
<rect x="87.81" y="475.10" width="1.20" height="3.40" fill="#EA3430" stroke="none" stroke-width="0" fill-opacity="0.5"/>
<rect x="88.37" y="475.10" width="1.20" height="3.40" fill="#7f7f7f" stroke="none" stroke-width="0" fill-opacity="0.5"/>
<rect x="88.94" y="475.10" width="1.20" height="3.40" fill="#EA3430" stroke="none" stroke-width="0" fill-opacity="0.5"/>
<rect x="89.71" y="475.10" width="1.20" height="3.40" fill="#EA3430" stroke="none" stroke-width="0" fill-opacity="0.5"/>
<rect x="90.12" y="475.10" width="1.20" height="3.40" fill="#7f7f7f" stroke="none" stroke-width="0" fill-opacity="0.5"/>
<rect x="90.86" y="475.10" width="1.20" height="3.40" fill="#EA3430" stroke="none" stroke-width="0" fill-opacity="0.5"/>
<rect x="91.28" y="475.10" width="1.20" height="3.40" fill="#4AA1E2" stroke="none" stroke-width="0" fill-opacity="0.5"/>
<rect x="92.09" y="475.10" width="1.20" height="3.40" fill="#EA3430" stroke="none" stroke-width="0" fill-opacity="0.5"/>
<rect x="92.91" y="475.10" width="1.20" height="3.40" fill="#4AA1E2" stroke="none" stroke-width="0" fill-opacity="0.5"/>
<rect x="93.54" y="475.10" width="1.20" height="3.40" fill="#EA3430" stroke="none" stroke-width="0" fill-opacity="0.5"/>
<rect x="93.92" y="475.10" width="1.20" height="3.40" fill="#EA3430" stroke="none" stroke-width="0" fill-opacity="0.5"/>
<rect x="94.74" y="475.10" width="1.20" height="3.40" fill="#EA3430" stroke="none" stroke-width="0" fill-opacity="0.5"/>
<rect x="95.43" y="475.10" width="1.20" height="3.40" fill="#EA3430" stroke="none" stroke-width="0" fill-opacity="0.5"/>
<rect x="96.18" y="475.10" width="1.20" height="3.40" fill="#4AA1E2" stroke="none" stroke-width="0" fill-opacity="0.5"/>
<rect x="96.65" y="475.10" width="1.20" height="3.40" fill="#EA3430" stroke="none" stroke-width="0" fill-opacity="0.5"/>
<rect x="97.35" y="475.10" width="1.20" height="3.40" fill="#EA3430" stroke="none" stroke-width="0" fill-opacity="0.5"/>
<rect x="97.79" y="475.10" width="1.20" height="3.40" fill="#EA3430" stroke="none" stroke-width="0" fill-opacity="0.5"/>
<rect x="98.55" y="475.10" width="1.20" height="3.40" fill="#4AA1E2" stroke="none" stroke-width="0" fill-opacity="0.5"/>
<rect x="99.02" y="475.10" width="1.20" height="3.40" fill="#7f7f7f" stroke="none" stroke-width="0" fill-opacity="0.5"/>
<rect x="99.45" y="475.10" width="1.20" height="3.40" fill="#EA3430" stroke="none" stroke-width="0" fill-opacity="0.5"/>
<rect x="99.91" y="475.10" width="1.20" height="3.40" fill="#EA3430" stroke="none" stroke-width="0" fill-opacity="0.5"/>
<rect x="100.26" y="475.10" width="1.20" height="3.40" fill="#EA3430" stroke="none" stroke-width="0" fill-opacity="0.5"/>
<rect x="100.78" y="475.10" width="1.20" height="3.40" fill="#EA3430" stroke="none" stroke-width="0" fill-opacity="0.5"/>
<rect x="101.17" y="475.10" width="1.20" height="3.40" fill="#EA3430" stroke="none" stroke-width="0" fill-opacity="0.5"/>
<rect x="101.95" y="475.10" width="1.20" height="3.40" fill="#7f7f7f" stroke="none" stroke-width="0" fill-opacity="0.5"/>
<rect x="102.61" y="475.10" width="1.20" height="3.40" fill="#4AA1E2" stroke="none" stroke-width="0" fill-opacity="0.5"/>
<rect x="103.24" y="475.10" width="1.20" height="3.40" fill="#EA3430" stroke="none" stroke-width="0" fill-opacity="0.5"/>
<rect x="103.58" y="475.10" width="1.20" height="3.40" fill="#EA3430" stroke="none" stroke-width="0" fill-opacity="0.5"/>
<rect x="104.37" y="475.10" width="1.20" height="3.40" fill="#4AA1E2" stroke="none" stroke-width="0" fill-opacity="0.5"/>
<rect x="105.19" y="475.10" width="1.20" height="3.40" fill="#EA3430" stroke="none" stroke-width="0" fill-opacity="0.5"/>
<rect x="105.84" y="475.10" width="1.20" height="3.40" fill="#EA3430" stroke="none" stroke-width="0" fill-opacity="0.5"/>
<rect x="106.55" y="475.10" width="1.20" height="3.40" fill="#EA3430" stroke="none" stroke-width="0" fill-opacity="0.5"/>
<rect x="107.38" y="475.10" width="1.20" height="3.40" fill="#EA3430" stroke="none" stroke-width="0" fill-opacity="0.5"/>
<rect x="107.99" y="475.10" width="1.20" height="3.40" fill="#4AA1E2" stroke="none" stroke-width="0" fill-opacity="0.5"/>
<rect x="108.78" y="475.10" width="1.20" height="3.40" fill="#4AA1E2" stroke="none" stroke-width="0" fill-opacity="0.5"/>
<rect x="109.46" y="475.10" width="1.20" height="3.40" fill="#4AA1E2" stroke="none" stroke-width="0" fill-opacity="0.5"/>
<rect x="110.26" y="475.10" width="1.20" height="3.40" fill="#EA3430" stroke="none" stroke-width="0" fill-opacity="0.5"/>
<rect x="110.94" y="475.10" width="1.20" height="3.40" fill="#7f7f7f" stroke="none" stroke-width="0" fill-opacity="0.5"/>
<rect x="111.71" y="475.10" width="1.20" height="3.40" fill="#EA3430" stroke="none" stroke-width="0" fill-opacity="0.5"/>
<rect x="112.44" y="475.10" width="1.20" height="3.40" fill="#4AA1E2" stroke="none" stroke-width="0" fill-opacity="0.5"/>
<rect x="113.06" y="475.10" width="1.20" height="3.40" fill="#4AA1E2" stroke="none" stroke-width="0" fill-opacity="0.5"/>
<rect x="113.58" y="475.10" width="1.20" height="3.40" fill="#EA3430" stroke="none" stroke-width="0" fill-opacity="0.5"/>
<rect x="114.22" y="475.10" width="1.20" height="3.40" fill="#EA3430" stroke="none" stroke-width="0" fill-opacity="0.5"/>
<rect x="114.87" y="475.10" width="1.20" height="3.40" fill="#7f7f7f" stroke="none" stroke-width="0" fill-opacity="0.5"/>
<rect x="115.65" y="475.10" width="1.20" height="3.40" fill="#4AA1E2" stroke="none" stroke-width="0" fill-opacity="0.5"/>
<rect x="116.17" y="475.10" width="1.20" height="3.40" fill="#4AA1E2" stroke="none" stroke-width="0" fill-opacity="0.5"/>
<rect x="116.80" y="475.10" width="1.20" height="3.40" fill="#EA3430" stroke="none" stroke-width="0" fill-opacity="0.5"/>
<rect x="117.55" y="475.10" width="1.20" height="3.40" fill="#EA3430" stroke="none" stroke-width="0" fill-opacity="0.5"/>
<rect x="118.26" y="475.10" width="1.20" height="3.40" fill="#EA3430" stroke="none" stroke-width="0" fill-opacity="0.5"/>
<rect x="118.90" y="475.10" width="1.20" height="3.40" fill="#EA3430" stroke="none" stroke-width="0" fill-opacity="0.5"/>
<rect x="119.34" y="475.10" width="1.20" height="3.40" fill="#4AA1E2" stroke="none" stroke-width="0" fill-opacity="0.5"/>
<rect x="119.92" y="475.10" width="1.20" height="3.40" fill="#4AA1E2" stroke="none" stroke-width="0" fill-opacity="0.5"/>
<rect x="121.39" y="475.10" width="1.20" height="3.40" fill="#EA3430" stroke="none" stroke-width="0" fill-opacity="0.5"/>
<rect x="169.85" y="475.10" width="1.20" height="3.40" fill="#EA3430" stroke="none" stroke-width="0" fill-opacity="0.5"/>
<rect x="132.90" y="475.10" width="1.20" height="3.40" fill="#EA3430" stroke="none" stroke-width="0" fill-opacity="0.5"/>
<rect x="168.53" y="475.10" width="1.20" height="3.40" fill="#7f7f7f" stroke="none" stroke-width="0" fill-opacity="0.5"/>
<rect x="185.38" y="475.10" width="1.20" height="3.40" fill="#EA3430" stroke="none" stroke-width="0" fill-opacity="0.5"/>
<rect x="168.96" y="475.10" width="1.20" height="3.40" fill="#EA3430" stroke="none" stroke-width="0" fill-opacity="0.5"/>
<rect x="151.89" y="475.10" width="1.20" height="3.40" fill="#EA3430" stroke="none" stroke-width="0" fill-opacity="0.5"/>
<rect x="187.01" y="475.10" width="1.20" height="3.40" fill="#4AA1E2" stroke="none" stroke-width="0" fill-opacity="0.5"/>
<rect x="148.51" y="475.10" width="1.20" height="3.40" fill="#4AA1E2" stroke="none" stroke-width="0" fill-opacity="0.5"/>
<rect x="143.57" y="475.10" width="1.20" height="3.40" fill="#EA3430" stroke="none" stroke-width="0" fill-opacity="0.5"/>
<rect x="156.65" y="475.10" width="1.20" height="3.40" fill="#EA3430" stroke="none" stroke-width="0" fill-opacity="0.5"/>
<rect x="182.25" y="475.10" width="1.20" height="3.40" fill="#4AA1E2" stroke="none" stroke-width="0" fill-opacity="0.5"/>
<rect x="189.61" y="475.10" width="1.20" height="3.40" fill="#4AA1E2" stroke="none" stroke-width="0" fill-opacity="0.5"/>
<rect x="132.86" y="475.10" width="1.20" height="3.40" fill="#EA3430" stroke="none" stroke-width="0" fill-opacity="0.5"/>
<rect x="140.57" y="475.10" width="1.20" height="3.40" fill="#EA3430" stroke="none" stroke-width="0" fill-opacity="0.5"/>
<rect x="150.66" y="475.10" width="1.20" height="3.40" fill="#EA3430" stroke="none" stroke-width="0" fill-opacity="0.5"/>
<rect x="156.46" y="475.10" width="1.20" height="3.40" fill="#4AA1E2" stroke="none" stroke-width="0" fill-opacity="0.5"/>
<rect x="181.55" y="475.10" width="1.20" height="3.40" fill="#EA3430" stroke="none" stroke-width="0" fill-opacity="0.5"/>
<rect x="153.45" y="475.10" width="1.20" height="3.40" fill="#7f7f7f" stroke="none" stroke-width="0" fill-opacity="0.5"/>
<rect x="122.86" y="475.10" width="1.20" height="3.40" fill="#EA3430" stroke="none" stroke-width="0" fill-opacity="0.5"/>
<rect x="123.59" y="475.10" width="1.20" height="3.40" fill="#4AA1E2" stroke="none" stroke-width="0" fill-opacity="0.5"/>
<rect x="162.04" y="475.10" width="1.20" height="3.40" fill="#4AA1E2" stroke="none" stroke-width="0" fill-opacity="0.5"/>
<rect x="59.90" y="444.50" width="1.20" height="34.00" fill="#4AA1E2" stroke="none" stroke-width="0" fill-opacity="0.5"/>
<rect x="59.90" y="468.30" width="1.20" height="10.20" fill="#EA3430" stroke="none" stroke-width="0" fill-opacity="0.5"/>
<rect x="66.00" y="471.70" width="1.20" height="6.80" fill="#EA3430" stroke="none" stroke-width="0" fill-opacity="0.5"/>
<rect x="70.80" y="471.70" width="1.20" height="6.80" fill="#EA3430" stroke="none" stroke-width="0" fill-opacity="0.5"/>
<rect x="72.80" y="464.90" width="1.20" height="13.60" fill="#4AA1E2" stroke="none" stroke-width="0" fill-opacity="0.5"/>
<rect x="74.20" y="464.90" width="1.20" height="13.60" fill="#EA3430" stroke="none" stroke-width="0" fill-opacity="0.5"/>
<rect x="75.50" y="468.30" width="1.20" height="10.20" fill="#4AA1E2" stroke="none" stroke-width="0" fill-opacity="0.5"/>
<rect x="77.60" y="468.30" width="1.20" height="10.20" fill="#EA3430" stroke="none" stroke-width="0" fill-opacity="0.5"/>
<rect x="79.00" y="468.30" width="1.20" height="10.20" fill="#4AA1E2" stroke="none" stroke-width="0" fill-opacity="0.5"/>
<rect x="81.00" y="471.70" width="1.20" height="6.80" fill="#EA3430" stroke="none" stroke-width="0" fill-opacity="0.5"/>
<rect x="83.00" y="468.30" width="1.20" height="10.20" fill="#4AA1E2" stroke="none" stroke-width="0" fill-opacity="0.5"/>
<rect x="85.10" y="464.90" width="1.20" height="13.60" fill="#4AA1E2" stroke="none" stroke-width="0" fill-opacity="0.5"/>
<rect x="85.40" y="468.30" width="1.20" height="10.20" fill="#EA3430" stroke="none" stroke-width="0" fill-opacity="0.5"/>
<rect x="89.20" y="468.30" width="1.20" height="10.20" fill="#4AA1E2" stroke="none" stroke-width="0" fill-opacity="0.5"/>
<rect x="90.60" y="471.70" width="1.20" height="6.80" fill="#EA3430" stroke="none" stroke-width="0" fill-opacity="0.5"/>
<rect x="92.60" y="468.30" width="1.20" height="10.20" fill="#4AA1E2" stroke="none" stroke-width="0" fill-opacity="0.5"/>
<rect x="94.60" y="464.90" width="1.20" height="13.60" fill="#4AA1E2" stroke="none" stroke-width="0" fill-opacity="0.5"/>
<rect x="96.40" y="471.70" width="1.20" height="6.80" fill="#EA3430" stroke="none" stroke-width="0" fill-opacity="0.5"/>
<text x="59.80" y="487.20" font-size="7.0" fill="#262626" text-anchor="middle">0</text>
<text x="92.10" y="487.20" font-size="7.0" fill="#262626" text-anchor="middle">1000</text>
<text x="124.40" y="487.20" font-size="7.0" fill="#262626" text-anchor="middle">2000</text>
<text x="156.70" y="487.20" font-size="7.0" fill="#262626" text-anchor="middle">3000</text>
<text x="189.00" y="487.20" font-size="7.0" fill="#262626" text-anchor="middle">4000</text>
<text x="35.20" y="461.20" font-size="10.3" font-weight="bold" fill="#000" text-anchor="middle" transform="rotate(-90 35.2 461.2)">n.censor</text>
<text x="123.60" y="496.80" font-size="10.3" font-weight="bold" fill="#000" text-anchor="middle">Time in days</text>
<text transform="translate(230.00,233.30) scale(0.92,1)" font-size="7.3" font-weight="bold" fill="#1a1aa6" text-anchor="start">MuSiC</text>
<rect x="229.50" y="236.90" width="141.00" height="104.50" fill="#ffffff" stroke="#ececec" stroke-width="0.6"/>
<line x1="252.25" y1="236.90" x2="252.25" y2="341.40" stroke="#f5f5f5" stroke-width="0.5"/>
<line x1="284.55" y1="236.90" x2="284.55" y2="341.40" stroke="#f5f5f5" stroke-width="0.5"/>
<line x1="316.85" y1="236.90" x2="316.85" y2="341.40" stroke="#f5f5f5" stroke-width="0.5"/>
<line x1="349.15" y1="236.90" x2="349.15" y2="341.40" stroke="#f5f5f5" stroke-width="0.5"/>
<line x1="229.50" y1="324.89" x2="370.50" y2="324.89" stroke="#f5f5f5" stroke-width="0.5"/>
<line x1="229.50" y1="301.26" x2="370.50" y2="301.26" stroke="#f5f5f5" stroke-width="0.5"/>
<line x1="229.50" y1="277.64" x2="370.50" y2="277.64" stroke="#f5f5f5" stroke-width="0.5"/>
<line x1="229.50" y1="254.01" x2="370.50" y2="254.01" stroke="#f5f5f5" stroke-width="0.5"/>
<line x1="236.10" y1="236.90" x2="236.10" y2="341.40" stroke="#ededed" stroke-width="0.7"/>
<line x1="268.40" y1="236.90" x2="268.40" y2="341.40" stroke="#ededed" stroke-width="0.7"/>
<line x1="300.70" y1="236.90" x2="300.70" y2="341.40" stroke="#ededed" stroke-width="0.7"/>
<line x1="333.00" y1="236.90" x2="333.00" y2="341.40" stroke="#ededed" stroke-width="0.7"/>
<line x1="365.30" y1="236.90" x2="365.30" y2="341.40" stroke="#ededed" stroke-width="0.7"/>
<line x1="229.50" y1="336.70" x2="370.50" y2="336.70" stroke="#ededed" stroke-width="0.7"/>
<line x1="229.50" y1="313.07" x2="370.50" y2="313.07" stroke="#ededed" stroke-width="0.7"/>
<line x1="229.50" y1="289.45" x2="370.50" y2="289.45" stroke="#ededed" stroke-width="0.7"/>
<line x1="229.50" y1="265.82" x2="370.50" y2="265.82" stroke="#ededed" stroke-width="0.7"/>
<line x1="229.50" y1="242.20" x2="370.50" y2="242.20" stroke="#ededed" stroke-width="0.7"/>
<text x="228.20" y="339.20" font-size="7.0" fill="#262626" text-anchor="end">0.00</text>
<line x1="228.10" y1="336.70" x2="229.50" y2="336.70" stroke="#777" stroke-width="0.5"/>
<text x="228.20" y="315.57" font-size="7.0" fill="#262626" text-anchor="end">0.25</text>
<line x1="228.10" y1="313.07" x2="229.50" y2="313.07" stroke="#777" stroke-width="0.5"/>
<text x="228.20" y="291.95" font-size="7.0" fill="#262626" text-anchor="end">0.50</text>
<line x1="228.10" y1="289.45" x2="229.50" y2="289.45" stroke="#777" stroke-width="0.5"/>
<text x="228.20" y="268.32" font-size="7.0" fill="#262626" text-anchor="end">0.75</text>
<line x1="228.10" y1="265.82" x2="229.50" y2="265.82" stroke="#777" stroke-width="0.5"/>
<text x="228.20" y="244.70" font-size="7.0" fill="#262626" text-anchor="end">1.00</text>
<line x1="228.10" y1="242.20" x2="229.50" y2="242.20" stroke="#777" stroke-width="0.5"/>
<text x="236.10" y="349.00" font-size="7.0" fill="#262626" text-anchor="middle">0</text>
<line x1="236.10" y1="341.40" x2="236.10" y2="342.70" stroke="#777" stroke-width="0.5"/>
<text x="268.40" y="349.00" font-size="7.0" fill="#262626" text-anchor="middle">1000</text>
<line x1="268.40" y1="341.40" x2="268.40" y2="342.70" stroke="#777" stroke-width="0.5"/>
<text x="300.70" y="349.00" font-size="7.0" fill="#262626" text-anchor="middle">2000</text>
<line x1="300.70" y1="341.40" x2="300.70" y2="342.70" stroke="#777" stroke-width="0.5"/>
<text x="333.00" y="349.00" font-size="7.0" fill="#262626" text-anchor="middle">3000</text>
<line x1="333.00" y1="341.40" x2="333.00" y2="342.70" stroke="#777" stroke-width="0.5"/>
<text x="365.30" y="349.00" font-size="7.0" fill="#262626" text-anchor="middle">4000</text>
<line x1="365.30" y1="341.40" x2="365.30" y2="342.70" stroke="#777" stroke-width="0.5"/>
<text x="299.90" y="358.70" font-size="10.3" font-weight="bold" fill="#000" text-anchor="middle">Time in days</text>
<text x="211.30" y="289.00" font-size="10.2" font-weight="bold" fill="#000" text-anchor="middle" transform="rotate(-90 211.3 289.0)">Survival probability</text>
<path d="M236.10,241.80 H236.40 V243.50 H236.70 V245.20 H237.00 V246.90 H237.50 V248.35 H238.00 V249.80 H241.60 V249.80 H241.60 V254.90 H248.20 V254.90 H248.20 V256.40 H251.80 V256.40 H251.80 V261.50 H253.30 V261.50 H253.30 V267.30 H259.80 V267.30 H259.80 V276.70 H300.00 V276.70 H300.00 V307.40 H303.40 V307.40" fill="none" stroke="#FDB913" stroke-width="1.8" stroke-linejoin="miter"/>
<path d="M236.10,241.80 H238.05 V243.40 H240.00 V245.00 H241.50 V246.13 H243.00 V247.27 H244.50 V248.40 H246.25 V249.95 H248.00 V251.50 H249.90 V252.85 H251.80 V254.20 H253.40 V255.10 H255.00 V256.00 H257.00 V256.90 H259.00 V257.80 H260.50 V258.23 H262.00 V258.65 H263.50 V259.07 H265.00 V259.50 H266.43 V260.00 H267.85 V260.50 H269.27 V261.00 H270.70 V261.50 H271.85 V262.75 H273.00 V264.00 H274.17 V265.83 H275.33 V267.67 H276.50 V269.50 H278.00 V270.33 H279.50 V271.17 H281.00 V272.00 H282.43 V272.83 H283.87 V273.67 H285.30 V274.50 H287.15 V275.75 H289.00 V277.00 H290.75 V278.30 H292.50 V279.60 H293.40 V281.05 H294.30 V282.50 H295.77 V283.43 H297.23 V284.37 H298.70 V285.30 H313.80 V285.30 H313.80 V289.00 H317.00 V289.00 H317.00 V291.00 H324.60 V291.00 H324.60 V296.60 H369.50 V296.60" fill="none" stroke="#7f7f7f" stroke-width="1.8" stroke-linejoin="miter"/>
<path d="M236.10,241.80 H238.05 V242.90 H240.00 V244.00 H241.50 V244.73 H243.00 V245.47 H244.50 V246.20 H246.25 V247.35 H248.00 V248.50 H249.90 V249.50 H251.80 V250.50 H253.20 V251.00 H254.60 V251.50 H256.00 V252.00 H257.50 V252.38 H259.00 V252.75 H260.50 V253.12 H262.00 V253.50 H264.00 V254.25 H266.00 V255.00 H267.57 V255.47 H269.13 V255.93 H270.70 V256.40 H272.35 V256.75 H274.00 V257.10 H275.65 V257.45 H277.30 V257.80 H277.30 V263.60 H281.60 V263.60 H281.60 V267.30 H282.57 V269.00 H283.53 V270.70 H284.50 V272.40 H286.20 V273.60 H287.90 V274.80 H289.60 V276.00 H291.08 V277.62 H292.55 V279.25 H294.02 V280.88 H295.50 V282.50 H296.93 V283.97 H298.37 V285.43 H299.80 V286.90 H300.03 V288.53 H300.27 V290.17 H300.50 V291.80 H364.60 V291.80" fill="none" stroke="#EA3430" stroke-width="1.8" stroke-linejoin="miter"/>
<path d="M236.10,241.80 H238.00 V243.00 H239.80 V243.85 H241.60 V244.70 H243.07 V246.13 H244.53 V247.57 H246.00 V249.00 H247.47 V250.50 H248.93 V252.00 H250.40 V253.50 H251.70 V254.75 H253.00 V256.00 H254.60 V257.25 H256.20 V258.50 H256.93 V259.97 H257.67 V261.43 H258.40 V262.90 H270.00 V262.90 H270.44 V264.64 H270.88 V266.38 H271.32 V268.12 H271.76 V269.86 H272.20 V271.60 H304.00 V271.60 H304.00 V279.30 H332.20 V279.30 H332.20 V308.00 H348.80 V308.00" fill="none" stroke="#4AA1E2" stroke-width="1.8" stroke-linejoin="miter"/>
<line x1="236.10" y1="289.45" x2="332.80" y2="289.45" stroke="#555" stroke-width="0.8" stroke-dasharray="1.1,1.3"/>
<line x1="299.70" y1="289.45" x2="299.70" y2="336.70" stroke="#555" stroke-width="0.8" stroke-dasharray="1.1,1.3"/>
<line x1="316.40" y1="289.45" x2="316.40" y2="336.70" stroke="#555" stroke-width="0.8" stroke-dasharray="1.1,1.3"/>
<line x1="332.80" y1="289.45" x2="332.80" y2="336.70" stroke="#555" stroke-width="0.8" stroke-dasharray="1.1,1.3"/>
<rect x="343.00" y="237.50" width="27.30" height="38.50" fill="#ffffff" stroke="none" stroke-width="0"/>
<text transform="translate(345.20,245.40) scale(0.95,1)" font-size="7.0" font-weight="bold" fill="#1a1aa6" text-anchor="start">Cluster</text>
<line x1="345.00" y1="253.00" x2="349.80" y2="253.00" stroke="#FDB913" stroke-width="1.9"/>
<text transform="translate(353.70,255.70) scale(0.95,1)" font-size="7.0" font-weight="bold" fill="#1a1aa6" text-anchor="start">CL1</text>
<line x1="345.00" y1="259.55" x2="349.80" y2="259.55" stroke="#7f7f7f" stroke-width="1.9"/>
<text transform="translate(353.70,262.25) scale(0.95,1)" font-size="7.0" font-weight="bold" fill="#1a1aa6" text-anchor="start">CL2</text>
<line x1="345.00" y1="266.10" x2="349.80" y2="266.10" stroke="#EA3430" stroke-width="1.9"/>
<text transform="translate(353.70,268.80) scale(0.95,1)" font-size="7.0" font-weight="bold" fill="#1a1aa6" text-anchor="start">CL3</text>
<line x1="345.00" y1="272.65" x2="349.80" y2="272.65" stroke="#4AA1E2" stroke-width="1.9"/>
<text transform="translate(353.70,275.35) scale(0.95,1)" font-size="7.0" font-weight="bold" fill="#1a1aa6" text-anchor="start">CL4</text>
<text x="238.90" y="321.60" font-size="9.8" fill="#1a1a1a" text-anchor="start">p = 0.31</text>
<text x="229.60" y="371.30" font-size="6.8" font-weight="bold" fill="#1a1aa6" text-anchor="start">Number at risk</text>
<rect x="229.00" y="374.10" width="141.80" height="36.30" fill="#ffffff" stroke="#ededed" stroke-width="0.5"/>
<line x1="236.10" y1="374.10" x2="236.10" y2="410.40" stroke="#f0f0f0" stroke-width="0.6"/>
<line x1="268.40" y1="374.10" x2="268.40" y2="410.40" stroke="#f0f0f0" stroke-width="0.6"/>
<line x1="300.70" y1="374.10" x2="300.70" y2="410.40" stroke="#f0f0f0" stroke-width="0.6"/>
<line x1="333.00" y1="374.10" x2="333.00" y2="410.40" stroke="#f0f0f0" stroke-width="0.6"/>
<line x1="365.30" y1="374.10" x2="365.30" y2="410.40" stroke="#f0f0f0" stroke-width="0.6"/>
<line x1="229.00" y1="379.60" x2="370.80" y2="379.60" stroke="#f0f0f0" stroke-width="0.6"/>
<rect x="222.90" y="378.70" width="3.40" height="1.80" fill="#111" stroke="none" stroke-width="0"/>
<text transform="translate(236.10,382.60) scale(0.88,1)" font-size="8.5" fill="#F5BE2A" text-anchor="middle" stroke="#F5BE2A" stroke-width="0.25">23</text>
<text transform="translate(268.40,382.60) scale(0.88,1)" font-size="8.5" fill="#F5BE2A" text-anchor="middle" stroke="#F5BE2A" stroke-width="0.25">7</text>
<text transform="translate(300.70,382.60) scale(0.88,1)" font-size="8.5" fill="#F5BE2A" text-anchor="middle" stroke="#F5BE2A" stroke-width="0.25">2</text>
<text transform="translate(333.00,382.60) scale(0.88,1)" font-size="8.5" fill="#F5BE2A" text-anchor="middle" stroke="#F5BE2A" stroke-width="0.25">0</text>
<text transform="translate(365.30,382.60) scale(0.88,1)" font-size="8.5" fill="#F5BE2A" text-anchor="middle" stroke="#F5BE2A" stroke-width="0.25">0</text>
<line x1="229.00" y1="388.27" x2="370.80" y2="388.27" stroke="#f0f0f0" stroke-width="0.6"/>
<rect x="222.90" y="387.37" width="3.40" height="1.80" fill="#111" stroke="none" stroke-width="0"/>
<text transform="translate(236.10,391.27) scale(0.88,1)" font-size="8.5" fill="#9a9a9a" text-anchor="middle" stroke="#9a9a9a" stroke-width="0.25">241</text>
<text transform="translate(268.40,391.27) scale(0.88,1)" font-size="8.5" fill="#9a9a9a" text-anchor="middle" stroke="#9a9a9a" stroke-width="0.25">87</text>
<text transform="translate(300.70,391.27) scale(0.88,1)" font-size="8.5" fill="#9a9a9a" text-anchor="middle" stroke="#9a9a9a" stroke-width="0.25">19</text>
<text transform="translate(333.00,391.27) scale(0.88,1)" font-size="8.5" fill="#9a9a9a" text-anchor="middle" stroke="#9a9a9a" stroke-width="0.25">8</text>
<text transform="translate(365.30,391.27) scale(0.88,1)" font-size="8.5" fill="#9a9a9a" text-anchor="middle" stroke="#9a9a9a" stroke-width="0.25">4</text>
<line x1="229.00" y1="396.94" x2="370.80" y2="396.94" stroke="#f0f0f0" stroke-width="0.6"/>
<rect x="222.90" y="396.04" width="3.40" height="1.80" fill="#111" stroke="none" stroke-width="0"/>
<text transform="translate(236.10,399.94) scale(0.88,1)" font-size="8.5" fill="#EE5A55" text-anchor="middle" stroke="#EE5A55" stroke-width="0.25">228</text>
<text transform="translate(268.40,399.94) scale(0.88,1)" font-size="8.5" fill="#EE5A55" text-anchor="middle" stroke="#EE5A55" stroke-width="0.25">66</text>
<text transform="translate(300.70,399.94) scale(0.88,1)" font-size="8.5" fill="#EE5A55" text-anchor="middle" stroke="#EE5A55" stroke-width="0.25">9</text>
<text transform="translate(333.00,399.94) scale(0.88,1)" font-size="8.5" fill="#EE5A55" text-anchor="middle" stroke="#EE5A55" stroke-width="0.25">5</text>
<text transform="translate(365.30,399.94) scale(0.88,1)" font-size="8.5" fill="#EE5A55" text-anchor="middle" stroke="#EE5A55" stroke-width="0.25">1</text>
<line x1="229.00" y1="405.61" x2="370.80" y2="405.61" stroke="#f0f0f0" stroke-width="0.6"/>
<rect x="222.90" y="404.71" width="3.40" height="1.80" fill="#111" stroke="none" stroke-width="0"/>
<text transform="translate(236.10,408.61) scale(0.88,1)" font-size="8.5" fill="#6FB2E8" text-anchor="middle" stroke="#6FB2E8" stroke-width="0.25">98</text>
<text transform="translate(268.40,408.61) scale(0.88,1)" font-size="8.5" fill="#6FB2E8" text-anchor="middle" stroke="#6FB2E8" stroke-width="0.25">29</text>
<text transform="translate(300.70,408.61) scale(0.88,1)" font-size="8.5" fill="#6FB2E8" text-anchor="middle" stroke="#6FB2E8" stroke-width="0.25">9</text>
<text transform="translate(333.00,408.61) scale(0.88,1)" font-size="8.5" fill="#6FB2E8" text-anchor="middle" stroke="#6FB2E8" stroke-width="0.25">2</text>
<text transform="translate(365.30,408.61) scale(0.88,1)" font-size="8.5" fill="#6FB2E8" text-anchor="middle" stroke="#6FB2E8" stroke-width="0.25">0</text>
<text x="236.10" y="418.70" font-size="7.0" fill="#262626" text-anchor="middle">0</text>
<text x="268.40" y="418.70" font-size="7.0" fill="#262626" text-anchor="middle">1000</text>
<text x="300.70" y="418.70" font-size="7.0" fill="#262626" text-anchor="middle">2000</text>
<text x="333.00" y="418.70" font-size="7.0" fill="#262626" text-anchor="middle">3000</text>
<text x="365.30" y="418.70" font-size="7.0" fill="#262626" text-anchor="middle">4000</text>
<text x="211.40" y="393.00" font-size="10.0" font-weight="bold" fill="#000" text-anchor="middle" transform="rotate(-90 211.4 393.0)">Strata</text>
<text x="299.90" y="427.70" font-size="10.3" font-weight="bold" fill="#000" text-anchor="middle">Time in days</text>
<text x="229.90" y="439.80" font-size="6.8" font-weight="bold" fill="#1a1aa6" text-anchor="start">Number of censoring</text>
<rect x="229.90" y="442.70" width="140.90" height="38.80" fill="#ffffff" stroke="#ededed" stroke-width="0.5"/>
<line x1="236.10" y1="442.70" x2="236.10" y2="481.50" stroke="#f0f0f0" stroke-width="0.6"/>
<line x1="268.40" y1="442.70" x2="268.40" y2="481.50" stroke="#f0f0f0" stroke-width="0.6"/>
<line x1="300.70" y1="442.70" x2="300.70" y2="481.50" stroke="#f0f0f0" stroke-width="0.6"/>
<line x1="333.00" y1="442.70" x2="333.00" y2="481.50" stroke="#f0f0f0" stroke-width="0.6"/>
<line x1="365.30" y1="442.70" x2="365.30" y2="481.50" stroke="#f0f0f0" stroke-width="0.6"/>
<line x1="229.50" y1="478.50" x2="370.50" y2="478.50" stroke="#f0f0f0" stroke-width="0.5"/>
<line x1="229.50" y1="474.25" x2="370.50" y2="474.25" stroke="#f0f0f0" stroke-width="0.5"/>
<line x1="229.50" y1="470.00" x2="370.50" y2="470.00" stroke="#f0f0f0" stroke-width="0.5"/>
<line x1="229.50" y1="465.75" x2="370.50" y2="465.75" stroke="#f0f0f0" stroke-width="0.5"/>
<line x1="229.50" y1="461.50" x2="370.50" y2="461.50" stroke="#f0f0f0" stroke-width="0.5"/>
<line x1="229.50" y1="457.25" x2="370.50" y2="457.25" stroke="#f0f0f0" stroke-width="0.5"/>
<text transform="translate(227.20,444.50) rotate(-90) scale(1.6,1)" font-size="5.3" fill="#1a1a1a" text-anchor="middle">8</text>
<text transform="translate(227.20,478.50) rotate(-90) scale(1.6,1)" font-size="5.3" fill="#1a1a1a" text-anchor="middle">0</text>
<text transform="translate(227.20,474.25) rotate(-90) scale(1.6,1)" font-size="5.3" fill="#1a1a1a" text-anchor="middle">1</text>
<text transform="translate(227.20,470.00) rotate(-90) scale(1.6,1)" font-size="5.3" fill="#1a1a1a" text-anchor="middle">2</text>
<text transform="translate(227.20,465.75) rotate(-90) scale(1.6,1)" font-size="5.3" fill="#1a1a1a" text-anchor="middle">3</text>
<text transform="translate(227.20,461.50) rotate(-90) scale(1.6,1)" font-size="5.3" fill="#1a1a1a" text-anchor="middle">4</text>
<text transform="translate(227.20,457.25) rotate(-90) scale(1.6,1)" font-size="5.3" fill="#1a1a1a" text-anchor="middle">5</text>
<rect x="235.50" y="474.25" width="1.20" height="4.25" fill="#FDB913" stroke="none" stroke-width="0" fill-opacity="0.5"/>
<rect x="235.90" y="474.25" width="1.20" height="4.25" fill="#EA3430" stroke="none" stroke-width="0" fill-opacity="0.5"/>
<rect x="236.73" y="474.25" width="1.20" height="4.25" fill="#EA3430" stroke="none" stroke-width="0" fill-opacity="0.5"/>
<rect x="237.12" y="474.25" width="1.20" height="4.25" fill="#7f7f7f" stroke="none" stroke-width="0" fill-opacity="0.5"/>
<rect x="237.62" y="474.25" width="1.20" height="4.25" fill="#4AA1E2" stroke="none" stroke-width="0" fill-opacity="0.5"/>
<rect x="238.06" y="474.25" width="1.20" height="4.25" fill="#FDB913" stroke="none" stroke-width="0" fill-opacity="0.5"/>
<rect x="238.55" y="474.25" width="1.20" height="4.25" fill="#7f7f7f" stroke="none" stroke-width="0" fill-opacity="0.5"/>
<rect x="239.36" y="474.25" width="1.20" height="4.25" fill="#7f7f7f" stroke="none" stroke-width="0" fill-opacity="0.5"/>
<rect x="240.16" y="474.25" width="1.20" height="4.25" fill="#7f7f7f" stroke="none" stroke-width="0" fill-opacity="0.5"/>
<rect x="240.51" y="474.25" width="1.20" height="4.25" fill="#4AA1E2" stroke="none" stroke-width="0" fill-opacity="0.5"/>
<rect x="241.13" y="474.25" width="1.20" height="4.25" fill="#EA3430" stroke="none" stroke-width="0" fill-opacity="0.5"/>
<rect x="241.55" y="474.25" width="1.20" height="4.25" fill="#4AA1E2" stroke="none" stroke-width="0" fill-opacity="0.5"/>
<rect x="242.18" y="474.25" width="1.20" height="4.25" fill="#FDB913" stroke="none" stroke-width="0" fill-opacity="0.5"/>
<rect x="242.90" y="474.25" width="1.20" height="4.25" fill="#FDB913" stroke="none" stroke-width="0" fill-opacity="0.5"/>
<rect x="243.52" y="474.25" width="1.20" height="4.25" fill="#7f7f7f" stroke="none" stroke-width="0" fill-opacity="0.5"/>
<rect x="244.16" y="474.25" width="1.20" height="4.25" fill="#EA3430" stroke="none" stroke-width="0" fill-opacity="0.5"/>
<rect x="244.97" y="474.25" width="1.20" height="4.25" fill="#EA3430" stroke="none" stroke-width="0" fill-opacity="0.5"/>
<rect x="245.70" y="474.25" width="1.20" height="4.25" fill="#FDB913" stroke="none" stroke-width="0" fill-opacity="0.5"/>
<rect x="246.36" y="474.25" width="1.20" height="4.25" fill="#EA3430" stroke="none" stroke-width="0" fill-opacity="0.5"/>
<rect x="247.11" y="474.25" width="1.20" height="4.25" fill="#7f7f7f" stroke="none" stroke-width="0" fill-opacity="0.5"/>
<rect x="247.53" y="474.25" width="1.20" height="4.25" fill="#EA3430" stroke="none" stroke-width="0" fill-opacity="0.5"/>
<rect x="248.13" y="474.25" width="1.20" height="4.25" fill="#EA3430" stroke="none" stroke-width="0" fill-opacity="0.5"/>
<rect x="248.93" y="474.25" width="1.20" height="4.25" fill="#EA3430" stroke="none" stroke-width="0" fill-opacity="0.5"/>
<rect x="249.52" y="474.25" width="1.20" height="4.25" fill="#EA3430" stroke="none" stroke-width="0" fill-opacity="0.5"/>
<rect x="250.18" y="474.25" width="1.20" height="4.25" fill="#4AA1E2" stroke="none" stroke-width="0" fill-opacity="0.5"/>
<rect x="250.66" y="474.25" width="1.20" height="4.25" fill="#EA3430" stroke="none" stroke-width="0" fill-opacity="0.5"/>
<rect x="251.29" y="474.25" width="1.20" height="4.25" fill="#EA3430" stroke="none" stroke-width="0" fill-opacity="0.5"/>
<rect x="251.92" y="474.25" width="1.20" height="4.25" fill="#7f7f7f" stroke="none" stroke-width="0" fill-opacity="0.5"/>
<rect x="252.47" y="474.25" width="1.20" height="4.25" fill="#7f7f7f" stroke="none" stroke-width="0" fill-opacity="0.5"/>
<rect x="253.06" y="474.25" width="1.20" height="4.25" fill="#EA3430" stroke="none" stroke-width="0" fill-opacity="0.5"/>
<rect x="253.90" y="474.25" width="1.20" height="4.25" fill="#EA3430" stroke="none" stroke-width="0" fill-opacity="0.5"/>
<rect x="254.45" y="474.25" width="1.20" height="4.25" fill="#EA3430" stroke="none" stroke-width="0" fill-opacity="0.5"/>
<rect x="255.25" y="474.25" width="1.20" height="4.25" fill="#FDB913" stroke="none" stroke-width="0" fill-opacity="0.5"/>
<rect x="255.84" y="474.25" width="1.20" height="4.25" fill="#EA3430" stroke="none" stroke-width="0" fill-opacity="0.5"/>
<rect x="256.21" y="474.25" width="1.20" height="4.25" fill="#4AA1E2" stroke="none" stroke-width="0" fill-opacity="0.5"/>
<rect x="256.62" y="474.25" width="1.20" height="4.25" fill="#7f7f7f" stroke="none" stroke-width="0" fill-opacity="0.5"/>
<rect x="257.13" y="474.25" width="1.20" height="4.25" fill="#EA3430" stroke="none" stroke-width="0" fill-opacity="0.5"/>
<rect x="257.63" y="474.25" width="1.20" height="4.25" fill="#EA3430" stroke="none" stroke-width="0" fill-opacity="0.5"/>
<rect x="257.97" y="474.25" width="1.20" height="4.25" fill="#7f7f7f" stroke="none" stroke-width="0" fill-opacity="0.5"/>
<rect x="258.71" y="474.25" width="1.20" height="4.25" fill="#7f7f7f" stroke="none" stroke-width="0" fill-opacity="0.5"/>
<rect x="259.14" y="474.25" width="1.20" height="4.25" fill="#7f7f7f" stroke="none" stroke-width="0" fill-opacity="0.5"/>
<rect x="259.49" y="474.25" width="1.20" height="4.25" fill="#EA3430" stroke="none" stroke-width="0" fill-opacity="0.5"/>
<rect x="260.24" y="474.25" width="1.20" height="4.25" fill="#4AA1E2" stroke="none" stroke-width="0" fill-opacity="0.5"/>
<rect x="260.80" y="474.25" width="1.20" height="4.25" fill="#4AA1E2" stroke="none" stroke-width="0" fill-opacity="0.5"/>
<rect x="261.38" y="474.25" width="1.20" height="4.25" fill="#EA3430" stroke="none" stroke-width="0" fill-opacity="0.5"/>
<rect x="262.00" y="474.25" width="1.20" height="4.25" fill="#FDB913" stroke="none" stroke-width="0" fill-opacity="0.5"/>
<rect x="262.71" y="474.25" width="1.20" height="4.25" fill="#EA3430" stroke="none" stroke-width="0" fill-opacity="0.5"/>
<rect x="263.41" y="474.25" width="1.20" height="4.25" fill="#7f7f7f" stroke="none" stroke-width="0" fill-opacity="0.5"/>
<rect x="263.92" y="474.25" width="1.20" height="4.25" fill="#7f7f7f" stroke="none" stroke-width="0" fill-opacity="0.5"/>
<rect x="264.66" y="474.25" width="1.20" height="4.25" fill="#7f7f7f" stroke="none" stroke-width="0" fill-opacity="0.5"/>
<rect x="265.47" y="474.25" width="1.20" height="4.25" fill="#EA3430" stroke="none" stroke-width="0" fill-opacity="0.5"/>
<rect x="266.05" y="474.25" width="1.20" height="4.25" fill="#7f7f7f" stroke="none" stroke-width="0" fill-opacity="0.5"/>
<rect x="266.55" y="474.25" width="1.20" height="4.25" fill="#EA3430" stroke="none" stroke-width="0" fill-opacity="0.5"/>
<rect x="267.23" y="474.25" width="1.20" height="4.25" fill="#EA3430" stroke="none" stroke-width="0" fill-opacity="0.5"/>
<rect x="267.70" y="474.25" width="1.20" height="4.25" fill="#EA3430" stroke="none" stroke-width="0" fill-opacity="0.5"/>
<rect x="268.52" y="474.25" width="1.20" height="4.25" fill="#EA3430" stroke="none" stroke-width="0" fill-opacity="0.5"/>
<rect x="268.90" y="474.25" width="1.20" height="4.25" fill="#EA3430" stroke="none" stroke-width="0" fill-opacity="0.5"/>
<rect x="269.36" y="474.25" width="1.20" height="4.25" fill="#4AA1E2" stroke="none" stroke-width="0" fill-opacity="0.5"/>
<rect x="269.77" y="474.25" width="1.20" height="4.25" fill="#EA3430" stroke="none" stroke-width="0" fill-opacity="0.5"/>
<rect x="270.15" y="474.25" width="1.20" height="4.25" fill="#EA3430" stroke="none" stroke-width="0" fill-opacity="0.5"/>
<rect x="270.58" y="474.25" width="1.20" height="4.25" fill="#EA3430" stroke="none" stroke-width="0" fill-opacity="0.5"/>
<rect x="271.28" y="474.25" width="1.20" height="4.25" fill="#4AA1E2" stroke="none" stroke-width="0" fill-opacity="0.5"/>
<rect x="272.03" y="474.25" width="1.20" height="4.25" fill="#EA3430" stroke="none" stroke-width="0" fill-opacity="0.5"/>
<rect x="272.55" y="474.25" width="1.20" height="4.25" fill="#4AA1E2" stroke="none" stroke-width="0" fill-opacity="0.5"/>
<rect x="272.89" y="474.25" width="1.20" height="4.25" fill="#EA3430" stroke="none" stroke-width="0" fill-opacity="0.5"/>
<rect x="273.47" y="474.25" width="1.20" height="4.25" fill="#EA3430" stroke="none" stroke-width="0" fill-opacity="0.5"/>
<rect x="274.18" y="474.25" width="1.20" height="4.25" fill="#7f7f7f" stroke="none" stroke-width="0" fill-opacity="0.5"/>
<rect x="274.74" y="474.25" width="1.20" height="4.25" fill="#EA3430" stroke="none" stroke-width="0" fill-opacity="0.5"/>
<rect x="275.18" y="474.25" width="1.20" height="4.25" fill="#EA3430" stroke="none" stroke-width="0" fill-opacity="0.5"/>
<rect x="275.54" y="474.25" width="1.20" height="4.25" fill="#7f7f7f" stroke="none" stroke-width="0" fill-opacity="0.5"/>
<rect x="275.95" y="474.25" width="1.20" height="4.25" fill="#4AA1E2" stroke="none" stroke-width="0" fill-opacity="0.5"/>
<rect x="276.60" y="474.25" width="1.20" height="4.25" fill="#EA3430" stroke="none" stroke-width="0" fill-opacity="0.5"/>
<rect x="277.18" y="474.25" width="1.20" height="4.25" fill="#7f7f7f" stroke="none" stroke-width="0" fill-opacity="0.5"/>
<rect x="277.53" y="474.25" width="1.20" height="4.25" fill="#EA3430" stroke="none" stroke-width="0" fill-opacity="0.5"/>
<rect x="277.87" y="474.25" width="1.20" height="4.25" fill="#7f7f7f" stroke="none" stroke-width="0" fill-opacity="0.5"/>
<rect x="278.19" y="474.25" width="1.20" height="4.25" fill="#7f7f7f" stroke="none" stroke-width="0" fill-opacity="0.5"/>
<rect x="279.02" y="474.25" width="1.20" height="4.25" fill="#4AA1E2" stroke="none" stroke-width="0" fill-opacity="0.5"/>
<rect x="279.47" y="474.25" width="1.20" height="4.25" fill="#7f7f7f" stroke="none" stroke-width="0" fill-opacity="0.5"/>
<rect x="279.86" y="474.25" width="1.20" height="4.25" fill="#EA3430" stroke="none" stroke-width="0" fill-opacity="0.5"/>
<rect x="280.63" y="474.25" width="1.20" height="4.25" fill="#4AA1E2" stroke="none" stroke-width="0" fill-opacity="0.5"/>
<rect x="280.96" y="474.25" width="1.20" height="4.25" fill="#EA3430" stroke="none" stroke-width="0" fill-opacity="0.5"/>
<rect x="281.61" y="474.25" width="1.20" height="4.25" fill="#EA3430" stroke="none" stroke-width="0" fill-opacity="0.5"/>
<rect x="282.35" y="474.25" width="1.20" height="4.25" fill="#4AA1E2" stroke="none" stroke-width="0" fill-opacity="0.5"/>
<rect x="282.96" y="474.25" width="1.20" height="4.25" fill="#EA3430" stroke="none" stroke-width="0" fill-opacity="0.5"/>
<rect x="283.72" y="474.25" width="1.20" height="4.25" fill="#EA3430" stroke="none" stroke-width="0" fill-opacity="0.5"/>
<rect x="284.14" y="474.25" width="1.20" height="4.25" fill="#EA3430" stroke="none" stroke-width="0" fill-opacity="0.5"/>
<rect x="284.55" y="474.25" width="1.20" height="4.25" fill="#4AA1E2" stroke="none" stroke-width="0" fill-opacity="0.5"/>
<rect x="285.13" y="474.25" width="1.20" height="4.25" fill="#7f7f7f" stroke="none" stroke-width="0" fill-opacity="0.5"/>
<rect x="285.88" y="474.25" width="1.20" height="4.25" fill="#FDB913" stroke="none" stroke-width="0" fill-opacity="0.5"/>
<rect x="286.30" y="474.25" width="1.20" height="4.25" fill="#EA3430" stroke="none" stroke-width="0" fill-opacity="0.5"/>
<rect x="287.08" y="474.25" width="1.20" height="4.25" fill="#7f7f7f" stroke="none" stroke-width="0" fill-opacity="0.5"/>
<rect x="287.60" y="474.25" width="1.20" height="4.25" fill="#7f7f7f" stroke="none" stroke-width="0" fill-opacity="0.5"/>
<rect x="288.02" y="474.25" width="1.20" height="4.25" fill="#EA3430" stroke="none" stroke-width="0" fill-opacity="0.5"/>
<rect x="288.37" y="474.25" width="1.20" height="4.25" fill="#EA3430" stroke="none" stroke-width="0" fill-opacity="0.5"/>
<rect x="288.82" y="474.25" width="1.20" height="4.25" fill="#EA3430" stroke="none" stroke-width="0" fill-opacity="0.5"/>
<rect x="289.64" y="474.25" width="1.20" height="4.25" fill="#EA3430" stroke="none" stroke-width="0" fill-opacity="0.5"/>
<rect x="290.25" y="474.25" width="1.20" height="4.25" fill="#4AA1E2" stroke="none" stroke-width="0" fill-opacity="0.5"/>
<rect x="290.88" y="474.25" width="1.20" height="4.25" fill="#EA3430" stroke="none" stroke-width="0" fill-opacity="0.5"/>
<rect x="291.60" y="474.25" width="1.20" height="4.25" fill="#EA3430" stroke="none" stroke-width="0" fill-opacity="0.5"/>
<rect x="292.42" y="474.25" width="1.20" height="4.25" fill="#7f7f7f" stroke="none" stroke-width="0" fill-opacity="0.5"/>
<rect x="293.16" y="474.25" width="1.20" height="4.25" fill="#4AA1E2" stroke="none" stroke-width="0" fill-opacity="0.5"/>
<rect x="293.53" y="474.25" width="1.20" height="4.25" fill="#EA3430" stroke="none" stroke-width="0" fill-opacity="0.5"/>
<rect x="293.95" y="474.25" width="1.20" height="4.25" fill="#EA3430" stroke="none" stroke-width="0" fill-opacity="0.5"/>
<rect x="294.75" y="474.25" width="1.20" height="4.25" fill="#4AA1E2" stroke="none" stroke-width="0" fill-opacity="0.5"/>
<rect x="295.29" y="474.25" width="1.20" height="4.25" fill="#7f7f7f" stroke="none" stroke-width="0" fill-opacity="0.5"/>
<rect x="295.99" y="474.25" width="1.20" height="4.25" fill="#EA3430" stroke="none" stroke-width="0" fill-opacity="0.5"/>
<rect x="296.82" y="474.25" width="1.20" height="4.25" fill="#FDB913" stroke="none" stroke-width="0" fill-opacity="0.5"/>
<rect x="297.52" y="474.25" width="1.20" height="4.25" fill="#4AA1E2" stroke="none" stroke-width="0" fill-opacity="0.5"/>
<rect x="298.25" y="474.25" width="1.20" height="4.25" fill="#7f7f7f" stroke="none" stroke-width="0" fill-opacity="0.5"/>
<rect x="315.43" y="474.25" width="1.20" height="4.25" fill="#4AA1E2" stroke="none" stroke-width="0" fill-opacity="0.5"/>
<rect x="364.28" y="474.25" width="1.20" height="4.25" fill="#4AA1E2" stroke="none" stroke-width="0" fill-opacity="0.5"/>
<rect x="300.18" y="474.25" width="1.20" height="4.25" fill="#4AA1E2" stroke="none" stroke-width="0" fill-opacity="0.5"/>
<rect x="305.82" y="474.25" width="1.20" height="4.25" fill="#4AA1E2" stroke="none" stroke-width="0" fill-opacity="0.5"/>
<rect x="322.09" y="474.25" width="1.20" height="4.25" fill="#EA3430" stroke="none" stroke-width="0" fill-opacity="0.5"/>
<rect x="332.36" y="474.25" width="1.20" height="4.25" fill="#4AA1E2" stroke="none" stroke-width="0" fill-opacity="0.5"/>
<rect x="323.64" y="474.25" width="1.20" height="4.25" fill="#4AA1E2" stroke="none" stroke-width="0" fill-opacity="0.5"/>
<rect x="320.28" y="474.25" width="1.20" height="4.25" fill="#FDB913" stroke="none" stroke-width="0" fill-opacity="0.5"/>
<rect x="360.87" y="474.25" width="1.20" height="4.25" fill="#EA3430" stroke="none" stroke-width="0" fill-opacity="0.5"/>
<rect x="325.11" y="474.25" width="1.20" height="4.25" fill="#7f7f7f" stroke="none" stroke-width="0" fill-opacity="0.5"/>
<rect x="366.03" y="474.25" width="1.20" height="4.25" fill="#4AA1E2" stroke="none" stroke-width="0" fill-opacity="0.5"/>
<rect x="313.95" y="474.25" width="1.20" height="4.25" fill="#EA3430" stroke="none" stroke-width="0" fill-opacity="0.5"/>
<rect x="315.47" y="474.25" width="1.20" height="4.25" fill="#4AA1E2" stroke="none" stroke-width="0" fill-opacity="0.5"/>
<rect x="308.34" y="474.25" width="1.20" height="4.25" fill="#4AA1E2" stroke="none" stroke-width="0" fill-opacity="0.5"/>
<rect x="369.15" y="474.25" width="1.20" height="4.25" fill="#4AA1E2" stroke="none" stroke-width="0" fill-opacity="0.5"/>
<rect x="306.54" y="474.25" width="1.20" height="4.25" fill="#FDB913" stroke="none" stroke-width="0" fill-opacity="0.5"/>
<rect x="355.43" y="474.25" width="1.20" height="4.25" fill="#EA3430" stroke="none" stroke-width="0" fill-opacity="0.5"/>
<rect x="303.40" y="474.25" width="1.20" height="4.25" fill="#EA3430" stroke="none" stroke-width="0" fill-opacity="0.5"/>
<rect x="325.54" y="474.25" width="1.20" height="4.25" fill="#4AA1E2" stroke="none" stroke-width="0" fill-opacity="0.5"/>
<rect x="339.91" y="474.25" width="1.20" height="4.25" fill="#7f7f7f" stroke="none" stroke-width="0" fill-opacity="0.5"/>
<rect x="343.30" y="474.25" width="1.20" height="4.25" fill="#EA3430" stroke="none" stroke-width="0" fill-opacity="0.5"/>
<rect x="347.25" y="474.25" width="1.20" height="4.25" fill="#4AA1E2" stroke="none" stroke-width="0" fill-opacity="0.5"/>
<rect x="235.90" y="444.50" width="1.20" height="34.00" fill="#7f7f7f" stroke="none" stroke-width="0" fill-opacity="0.5"/>
<rect x="236.10" y="465.75" width="1.20" height="12.75" fill="#EA3430" stroke="none" stroke-width="0" fill-opacity="0.5"/>
<rect x="243.90" y="470.00" width="1.20" height="8.50" fill="#7f7f7f" stroke="none" stroke-width="0" fill-opacity="0.5"/>
<rect x="246.10" y="470.00" width="1.20" height="8.50" fill="#EA3430" stroke="none" stroke-width="0" fill-opacity="0.5"/>
<rect x="247.60" y="470.00" width="1.20" height="8.50" fill="#EA3430" stroke="none" stroke-width="0" fill-opacity="0.5"/>
<rect x="249.00" y="465.75" width="1.20" height="12.75" fill="#7f7f7f" stroke="none" stroke-width="0" fill-opacity="0.5"/>
<rect x="249.80" y="457.25" width="1.20" height="21.25" fill="#EA3430" stroke="none" stroke-width="0" fill-opacity="0.5"/>
<rect x="251.50" y="461.50" width="1.20" height="17.00" fill="#EA3430" stroke="none" stroke-width="0" fill-opacity="0.5"/>
<rect x="253.40" y="470.00" width="1.20" height="8.50" fill="#EA3430" stroke="none" stroke-width="0" fill-opacity="0.5"/>
<rect x="254.90" y="465.75" width="1.20" height="12.75" fill="#7f7f7f" stroke="none" stroke-width="0" fill-opacity="0.5"/>
<rect x="255.20" y="465.75" width="1.20" height="12.75" fill="#EA3430" stroke="none" stroke-width="0" fill-opacity="0.5"/>
<rect x="256.30" y="470.00" width="1.20" height="8.50" fill="#7f7f7f" stroke="none" stroke-width="0" fill-opacity="0.5"/>
<rect x="259.20" y="465.75" width="1.20" height="12.75" fill="#7f7f7f" stroke="none" stroke-width="0" fill-opacity="0.5"/>
<rect x="259.90" y="470.00" width="1.20" height="8.50" fill="#EA3430" stroke="none" stroke-width="0" fill-opacity="0.5"/>
<rect x="261.10" y="457.25" width="1.20" height="21.25" fill="#EA3430" stroke="none" stroke-width="0" fill-opacity="0.5"/>
<rect x="264.30" y="470.00" width="1.20" height="8.50" fill="#7f7f7f" stroke="none" stroke-width="0" fill-opacity="0.5"/>
<rect x="265.40" y="470.00" width="1.20" height="8.50" fill="#EA3430" stroke="none" stroke-width="0" fill-opacity="0.5"/>
<rect x="267.90" y="465.75" width="1.20" height="12.75" fill="#7f7f7f" stroke="none" stroke-width="0" fill-opacity="0.5"/>
<rect x="270.10" y="465.75" width="1.20" height="12.75" fill="#7f7f7f" stroke="none" stroke-width="0" fill-opacity="0.5"/>
<rect x="271.60" y="470.00" width="1.20" height="8.50" fill="#EA3430" stroke="none" stroke-width="0" fill-opacity="0.5"/>
<rect x="273.00" y="470.00" width="1.20" height="8.50" fill="#7f7f7f" stroke="none" stroke-width="0" fill-opacity="0.5"/>
<rect x="274.80" y="470.00" width="1.20" height="8.50" fill="#7f7f7f" stroke="none" stroke-width="0" fill-opacity="0.5"/>
<rect x="279.60" y="470.00" width="1.20" height="8.50" fill="#EA3430" stroke="none" stroke-width="0" fill-opacity="0.5"/>
<rect x="285.40" y="470.00" width="1.20" height="8.50" fill="#7f7f7f" stroke="none" stroke-width="0" fill-opacity="0.5"/>
<text x="236.10" y="487.20" font-size="7.0" fill="#262626" text-anchor="middle">0</text>
<text x="268.40" y="487.20" font-size="7.0" fill="#262626" text-anchor="middle">1000</text>
<text x="300.70" y="487.20" font-size="7.0" fill="#262626" text-anchor="middle">2000</text>
<text x="333.00" y="487.20" font-size="7.0" fill="#262626" text-anchor="middle">3000</text>
<text x="365.30" y="487.20" font-size="7.0" fill="#262626" text-anchor="middle">4000</text>
<text x="211.50" y="461.20" font-size="10.3" font-weight="bold" fill="#000" text-anchor="middle" transform="rotate(-90 211.5 461.2)">n.censor</text>
<text x="299.90" y="496.80" font-size="10.3" font-weight="bold" fill="#000" text-anchor="middle">Time in days</text>
<text transform="translate(401.60,233.30) scale(0.92,1)" font-size="7.3" font-weight="bold" fill="#1a1aa6" text-anchor="start">CIBERSORT</text>
<rect x="401.10" y="236.90" width="141.00" height="104.50" fill="#ffffff" stroke="#ececec" stroke-width="0.6"/>
<line x1="423.85" y1="236.90" x2="423.85" y2="341.40" stroke="#f5f5f5" stroke-width="0.5"/>
<line x1="456.15" y1="236.90" x2="456.15" y2="341.40" stroke="#f5f5f5" stroke-width="0.5"/>
<line x1="488.45" y1="236.90" x2="488.45" y2="341.40" stroke="#f5f5f5" stroke-width="0.5"/>
<line x1="520.75" y1="236.90" x2="520.75" y2="341.40" stroke="#f5f5f5" stroke-width="0.5"/>
<line x1="401.10" y1="324.89" x2="542.10" y2="324.89" stroke="#f5f5f5" stroke-width="0.5"/>
<line x1="401.10" y1="301.26" x2="542.10" y2="301.26" stroke="#f5f5f5" stroke-width="0.5"/>
<line x1="401.10" y1="277.64" x2="542.10" y2="277.64" stroke="#f5f5f5" stroke-width="0.5"/>
<line x1="401.10" y1="254.01" x2="542.10" y2="254.01" stroke="#f5f5f5" stroke-width="0.5"/>
<line x1="407.70" y1="236.90" x2="407.70" y2="341.40" stroke="#ededed" stroke-width="0.7"/>
<line x1="440.00" y1="236.90" x2="440.00" y2="341.40" stroke="#ededed" stroke-width="0.7"/>
<line x1="472.30" y1="236.90" x2="472.30" y2="341.40" stroke="#ededed" stroke-width="0.7"/>
<line x1="504.60" y1="236.90" x2="504.60" y2="341.40" stroke="#ededed" stroke-width="0.7"/>
<line x1="536.90" y1="236.90" x2="536.90" y2="341.40" stroke="#ededed" stroke-width="0.7"/>
<line x1="401.10" y1="336.70" x2="542.10" y2="336.70" stroke="#ededed" stroke-width="0.7"/>
<line x1="401.10" y1="313.07" x2="542.10" y2="313.07" stroke="#ededed" stroke-width="0.7"/>
<line x1="401.10" y1="289.45" x2="542.10" y2="289.45" stroke="#ededed" stroke-width="0.7"/>
<line x1="401.10" y1="265.82" x2="542.10" y2="265.82" stroke="#ededed" stroke-width="0.7"/>
<line x1="401.10" y1="242.20" x2="542.10" y2="242.20" stroke="#ededed" stroke-width="0.7"/>
<text x="399.80" y="339.20" font-size="7.0" fill="#262626" text-anchor="end">0.00</text>
<line x1="399.70" y1="336.70" x2="401.10" y2="336.70" stroke="#777" stroke-width="0.5"/>
<text x="399.80" y="315.57" font-size="7.0" fill="#262626" text-anchor="end">0.25</text>
<line x1="399.70" y1="313.07" x2="401.10" y2="313.07" stroke="#777" stroke-width="0.5"/>
<text x="399.80" y="291.95" font-size="7.0" fill="#262626" text-anchor="end">0.50</text>
<line x1="399.70" y1="289.45" x2="401.10" y2="289.45" stroke="#777" stroke-width="0.5"/>
<text x="399.80" y="268.32" font-size="7.0" fill="#262626" text-anchor="end">0.75</text>
<line x1="399.70" y1="265.82" x2="401.10" y2="265.82" stroke="#777" stroke-width="0.5"/>
<text x="399.80" y="244.70" font-size="7.0" fill="#262626" text-anchor="end">1.00</text>
<line x1="399.70" y1="242.20" x2="401.10" y2="242.20" stroke="#777" stroke-width="0.5"/>
<text x="407.70" y="349.00" font-size="7.0" fill="#262626" text-anchor="middle">0</text>
<line x1="407.70" y1="341.40" x2="407.70" y2="342.70" stroke="#777" stroke-width="0.5"/>
<text x="440.00" y="349.00" font-size="7.0" fill="#262626" text-anchor="middle">1000</text>
<line x1="440.00" y1="341.40" x2="440.00" y2="342.70" stroke="#777" stroke-width="0.5"/>
<text x="472.30" y="349.00" font-size="7.0" fill="#262626" text-anchor="middle">2000</text>
<line x1="472.30" y1="341.40" x2="472.30" y2="342.70" stroke="#777" stroke-width="0.5"/>
<text x="504.60" y="349.00" font-size="7.0" fill="#262626" text-anchor="middle">3000</text>
<line x1="504.60" y1="341.40" x2="504.60" y2="342.70" stroke="#777" stroke-width="0.5"/>
<text x="536.90" y="349.00" font-size="7.0" fill="#262626" text-anchor="middle">4000</text>
<line x1="536.90" y1="341.40" x2="536.90" y2="342.70" stroke="#777" stroke-width="0.5"/>
<text x="471.50" y="358.70" font-size="10.3" font-weight="bold" fill="#000" text-anchor="middle">Time in days</text>
<text x="382.90" y="289.00" font-size="10.2" font-weight="bold" fill="#000" text-anchor="middle" transform="rotate(-90 382.9 289.0)">Survival probability</text>
<path d="M407.70,241.80 H410.00 V243.00 H411.50 V243.83 H413.00 V244.67 H414.50 V245.50 H416.25 V246.50 H418.00 V247.50 H419.90 V248.30 H421.80 V249.10 H423.40 V249.80 H425.00 V250.50 H427.00 V251.25 H429.00 V252.00 H430.50 V252.97 H432.00 V253.93 H433.50 V254.90 H435.00 V255.10 H436.50 V255.30 H438.00 V255.50 H439.40 V255.73 H440.80 V255.95 H442.20 V256.17 H443.60 V256.40 H445.07 V256.87 H446.53 V257.33 H448.00 V257.80 H448.55 V259.45 H449.10 V261.10 H449.65 V262.75 H450.20 V264.40 H452.00 V266.20 H453.80 V268.00 H455.27 V269.67 H456.73 V271.33 H458.20 V273.00 H459.13 V274.73 H460.07 V276.47 H461.00 V278.20 H462.00 V279.63 H463.00 V281.07 H464.00 V282.50 H465.25 V284.15 H466.50 V285.80 H468.40 V287.30 H505.90 V287.30 H505.90 V297.20 H537.90 V297.20" fill="none" stroke="#FDB913" stroke-width="1.8" stroke-linejoin="miter"/>
<path d="M407.70,241.80 H409.35 V243.40 H411.00 V245.00 H412.17 V246.37 H413.33 V247.73 H414.50 V249.10 H415.98 V250.38 H417.45 V251.65 H418.92 V252.92 H420.40 V254.20 H421.93 V254.80 H423.47 V255.40 H425.00 V256.00 H427.00 V256.90 H429.00 V257.80 H431.00 V258.65 H433.00 V259.50 H434.60 V260.40 H436.20 V261.30 H437.80 V262.20 H439.25 V263.27 H440.70 V264.35 H442.15 V265.43 H443.60 V266.50 H444.10 V267.97 H444.60 V269.43 H445.10 V270.90 H446.30 V272.37 H447.50 V273.83 H448.70 V275.30 H468.40 V275.30 H468.62 V276.87 H468.83 V278.43 H469.05 V280.00 H469.27 V281.57 H469.48 V283.13 H469.70 V284.70 H476.20 V284.70 H476.20 V293.30 H523.00 V293.30" fill="none" stroke="#7f7f7f" stroke-width="1.8" stroke-linejoin="miter"/>
<path d="M407.70,241.80 H407.80 V243.27 H407.90 V244.73 H408.00 V246.20 H410.20 V246.20 H410.20 V250.50 H414.50 V250.50 H414.50 V254.90 H416.00 V254.90 H416.00 V262.20 H423.30 V262.20 H423.30 V267.30 H426.20 V267.30 H426.20 V272.40 H431.30 V272.40 H431.30 V279.60 H473.40 V279.60 H473.40 V309.60 H475.60 V309.60" fill="none" stroke="#EA3430" stroke-width="1.8" stroke-linejoin="miter"/>
<path d="M407.70,241.80 H409.65 V242.55 H411.60 V243.30 H412.73 V244.70 H413.87 V246.10 H415.00 V247.50 H416.30 V249.00 H417.60 V250.50 H418.90 V252.00 H420.60 V252.67 H422.30 V253.33 H424.00 V254.00 H425.67 V254.53 H427.33 V255.07 H429.00 V255.60 H430.50 V256.07 H432.00 V256.55 H433.50 V257.02 H435.00 V257.50 H436.43 V257.95 H437.85 V258.40 H439.27 V258.85 H440.70 V259.30 H442.15 V261.10 H443.60 V262.90 H445.07 V263.60 H446.53 V264.30 H448.00 V265.00 H449.45 V266.12 H450.90 V267.25 H452.35 V268.38 H453.80 V269.50 H454.77 V270.93 H455.73 V272.37 H456.70 V273.80 H458.40 V274.17 H460.10 V274.53 H461.80 V274.90 H463.50 V275.27 H465.20 V275.63 H466.90 V276.00 H467.60 V277.47 H468.30 V278.93 H469.00 V280.40 H488.10 V280.40 H488.10 V288.00 H499.00 V288.00 H499.00 V293.30 H541.80 V293.30" fill="none" stroke="#4AA1E2" stroke-width="1.8" stroke-linejoin="miter"/>
<line x1="407.70" y1="289.45" x2="499.00" y2="289.45" stroke="#555" stroke-width="0.8" stroke-dasharray="1.1,1.3"/>
<line x1="473.40" y1="289.45" x2="473.40" y2="336.70" stroke="#555" stroke-width="0.8" stroke-dasharray="1.1,1.3"/>
<line x1="476.20" y1="289.45" x2="476.20" y2="336.70" stroke="#555" stroke-width="0.8" stroke-dasharray="1.1,1.3"/>
<line x1="498.50" y1="289.45" x2="498.50" y2="336.70" stroke="#555" stroke-width="0.8" stroke-dasharray="1.1,1.3"/>
<line x1="505.40" y1="289.45" x2="505.40" y2="336.70" stroke="#555" stroke-width="0.8" stroke-dasharray="1.1,1.3"/>
<rect x="514.60" y="237.50" width="27.30" height="38.50" fill="#ffffff" stroke="none" stroke-width="0"/>
<text transform="translate(516.80,245.40) scale(0.95,1)" font-size="7.0" font-weight="bold" fill="#1a1aa6" text-anchor="start">Cluster</text>
<line x1="516.60" y1="253.00" x2="521.40" y2="253.00" stroke="#FDB913" stroke-width="1.9"/>
<text transform="translate(525.30,255.70) scale(0.95,1)" font-size="7.0" font-weight="bold" fill="#1a1aa6" text-anchor="start">CL1</text>
<line x1="516.60" y1="259.55" x2="521.40" y2="259.55" stroke="#7f7f7f" stroke-width="1.9"/>
<text transform="translate(525.30,262.25) scale(0.95,1)" font-size="7.0" font-weight="bold" fill="#1a1aa6" text-anchor="start">CL2</text>
<line x1="516.60" y1="266.10" x2="521.40" y2="266.10" stroke="#EA3430" stroke-width="1.9"/>
<text transform="translate(525.30,268.80) scale(0.95,1)" font-size="7.0" font-weight="bold" fill="#1a1aa6" text-anchor="start">CL3</text>
<line x1="516.60" y1="272.65" x2="521.40" y2="272.65" stroke="#4AA1E2" stroke-width="1.9"/>
<text transform="translate(525.30,275.35) scale(0.95,1)" font-size="7.0" font-weight="bold" fill="#1a1aa6" text-anchor="start">CL4</text>
<text x="410.50" y="321.60" font-size="9.8" fill="#1a1a1a" text-anchor="start">p = 0.098</text>
<text x="401.20" y="371.30" font-size="6.8" font-weight="bold" fill="#1a1aa6" text-anchor="start">Number at risk</text>
<rect x="400.60" y="374.10" width="141.80" height="36.30" fill="#ffffff" stroke="#ededed" stroke-width="0.5"/>
<line x1="407.70" y1="374.10" x2="407.70" y2="410.40" stroke="#f0f0f0" stroke-width="0.6"/>
<line x1="440.00" y1="374.10" x2="440.00" y2="410.40" stroke="#f0f0f0" stroke-width="0.6"/>
<line x1="472.30" y1="374.10" x2="472.30" y2="410.40" stroke="#f0f0f0" stroke-width="0.6"/>
<line x1="504.60" y1="374.10" x2="504.60" y2="410.40" stroke="#f0f0f0" stroke-width="0.6"/>
<line x1="536.90" y1="374.10" x2="536.90" y2="410.40" stroke="#f0f0f0" stroke-width="0.6"/>
<line x1="400.60" y1="379.60" x2="542.40" y2="379.60" stroke="#f0f0f0" stroke-width="0.6"/>
<rect x="394.50" y="378.70" width="3.40" height="1.80" fill="#111" stroke="none" stroke-width="0"/>
<text transform="translate(407.70,382.60) scale(0.88,1)" font-size="8.5" fill="#F5BE2A" text-anchor="middle" stroke="#F5BE2A" stroke-width="0.25">246</text>
<text transform="translate(440.00,382.60) scale(0.88,1)" font-size="8.5" fill="#F5BE2A" text-anchor="middle" stroke="#F5BE2A" stroke-width="0.25">68</text>
<text transform="translate(472.30,382.60) scale(0.88,1)" font-size="8.5" fill="#F5BE2A" text-anchor="middle" stroke="#F5BE2A" stroke-width="0.25">13</text>
<text transform="translate(504.60,382.60) scale(0.88,1)" font-size="8.5" fill="#F5BE2A" text-anchor="middle" stroke="#F5BE2A" stroke-width="0.25">5</text>
<text transform="translate(536.90,382.60) scale(0.88,1)" font-size="8.5" fill="#F5BE2A" text-anchor="middle" stroke="#F5BE2A" stroke-width="0.25">1</text>
<line x1="400.60" y1="388.27" x2="542.40" y2="388.27" stroke="#f0f0f0" stroke-width="0.6"/>
<rect x="394.50" y="387.37" width="3.40" height="1.80" fill="#111" stroke="none" stroke-width="0"/>
<text transform="translate(407.70,391.27) scale(0.88,1)" font-size="8.5" fill="#9a9a9a" text-anchor="middle" stroke="#9a9a9a" stroke-width="0.25">113</text>
<text transform="translate(440.00,391.27) scale(0.88,1)" font-size="8.5" fill="#9a9a9a" text-anchor="middle" stroke="#9a9a9a" stroke-width="0.25">33</text>
<text transform="translate(472.30,391.27) scale(0.88,1)" font-size="8.5" fill="#9a9a9a" text-anchor="middle" stroke="#9a9a9a" stroke-width="0.25">6</text>
<text transform="translate(504.60,391.27) scale(0.88,1)" font-size="8.5" fill="#9a9a9a" text-anchor="middle" stroke="#9a9a9a" stroke-width="0.25">2</text>
<text transform="translate(536.90,391.27) scale(0.88,1)" font-size="8.5" fill="#9a9a9a" text-anchor="middle" stroke="#9a9a9a" stroke-width="0.25">0</text>
<line x1="400.60" y1="396.94" x2="542.40" y2="396.94" stroke="#f0f0f0" stroke-width="0.6"/>
<rect x="394.50" y="396.04" width="3.40" height="1.80" fill="#111" stroke="none" stroke-width="0"/>
<text transform="translate(407.70,399.94) scale(0.88,1)" font-size="8.5" fill="#EE5A55" text-anchor="middle" stroke="#EE5A55" stroke-width="0.25">27</text>
<text transform="translate(440.00,399.94) scale(0.88,1)" font-size="8.5" fill="#EE5A55" text-anchor="middle" stroke="#EE5A55" stroke-width="0.25">7</text>
<text transform="translate(472.30,399.94) scale(0.88,1)" font-size="8.5" fill="#EE5A55" text-anchor="middle" stroke="#EE5A55" stroke-width="0.25">2</text>
<text transform="translate(504.60,399.94) scale(0.88,1)" font-size="8.5" fill="#EE5A55" text-anchor="middle" stroke="#EE5A55" stroke-width="0.25">0</text>
<text transform="translate(536.90,399.94) scale(0.88,1)" font-size="8.5" fill="#EE5A55" text-anchor="middle" stroke="#EE5A55" stroke-width="0.25">0</text>
<line x1="400.60" y1="405.61" x2="542.40" y2="405.61" stroke="#f0f0f0" stroke-width="0.6"/>
<rect x="394.50" y="404.71" width="3.40" height="1.80" fill="#111" stroke="none" stroke-width="0"/>
<text transform="translate(407.70,408.61) scale(0.88,1)" font-size="8.5" fill="#6FB2E8" text-anchor="middle" stroke="#6FB2E8" stroke-width="0.25">204</text>
<text transform="translate(440.00,408.61) scale(0.88,1)" font-size="8.5" fill="#6FB2E8" text-anchor="middle" stroke="#6FB2E8" stroke-width="0.25">81</text>
<text transform="translate(472.30,408.61) scale(0.88,1)" font-size="8.5" fill="#6FB2E8" text-anchor="middle" stroke="#6FB2E8" stroke-width="0.25">18</text>
<text transform="translate(504.60,408.61) scale(0.88,1)" font-size="8.5" fill="#6FB2E8" text-anchor="middle" stroke="#6FB2E8" stroke-width="0.25">8</text>
<text transform="translate(536.90,408.61) scale(0.88,1)" font-size="8.5" fill="#6FB2E8" text-anchor="middle" stroke="#6FB2E8" stroke-width="0.25">4</text>
<text x="407.70" y="418.70" font-size="7.0" fill="#262626" text-anchor="middle">0</text>
<text x="440.00" y="418.70" font-size="7.0" fill="#262626" text-anchor="middle">1000</text>
<text x="472.30" y="418.70" font-size="7.0" fill="#262626" text-anchor="middle">2000</text>
<text x="504.60" y="418.70" font-size="7.0" fill="#262626" text-anchor="middle">3000</text>
<text x="536.90" y="418.70" font-size="7.0" fill="#262626" text-anchor="middle">4000</text>
<text x="383.00" y="393.00" font-size="10.0" font-weight="bold" fill="#000" text-anchor="middle" transform="rotate(-90 383.0 393.0)">Strata</text>
<text x="471.50" y="427.70" font-size="10.3" font-weight="bold" fill="#000" text-anchor="middle">Time in days</text>
<text x="401.50" y="439.80" font-size="6.8" font-weight="bold" fill="#1a1aa6" text-anchor="start">Number of censoring</text>
<rect x="401.50" y="442.70" width="140.90" height="38.80" fill="#ffffff" stroke="#ededed" stroke-width="0.5"/>
<line x1="407.70" y1="442.70" x2="407.70" y2="481.50" stroke="#f0f0f0" stroke-width="0.6"/>
<line x1="440.00" y1="442.70" x2="440.00" y2="481.50" stroke="#f0f0f0" stroke-width="0.6"/>
<line x1="472.30" y1="442.70" x2="472.30" y2="481.50" stroke="#f0f0f0" stroke-width="0.6"/>
<line x1="504.60" y1="442.70" x2="504.60" y2="481.50" stroke="#f0f0f0" stroke-width="0.6"/>
<line x1="536.90" y1="442.70" x2="536.90" y2="481.50" stroke="#f0f0f0" stroke-width="0.6"/>
<line x1="401.10" y1="478.50" x2="542.10" y2="478.50" stroke="#f0f0f0" stroke-width="0.5"/>
<line x1="401.10" y1="472.83" x2="542.10" y2="472.83" stroke="#f0f0f0" stroke-width="0.5"/>
<line x1="401.10" y1="467.17" x2="542.10" y2="467.17" stroke="#f0f0f0" stroke-width="0.5"/>
<line x1="401.10" y1="461.50" x2="542.10" y2="461.50" stroke="#f0f0f0" stroke-width="0.5"/>
<line x1="401.10" y1="455.83" x2="542.10" y2="455.83" stroke="#f0f0f0" stroke-width="0.5"/>
<line x1="401.10" y1="450.17" x2="542.10" y2="450.17" stroke="#f0f0f0" stroke-width="0.5"/>
<text transform="translate(398.80,444.50) rotate(-90) scale(1.6,1)" font-size="5.3" fill="#1a1a1a" text-anchor="middle">6</text>
<text transform="translate(398.80,478.50) rotate(-90) scale(1.6,1)" font-size="5.3" fill="#1a1a1a" text-anchor="middle">0</text>
<text transform="translate(398.80,472.83) rotate(-90) scale(1.6,1)" font-size="5.3" fill="#1a1a1a" text-anchor="middle">1</text>
<text transform="translate(398.80,467.17) rotate(-90) scale(1.6,1)" font-size="5.3" fill="#1a1a1a" text-anchor="middle">2</text>
<text transform="translate(398.80,461.50) rotate(-90) scale(1.6,1)" font-size="5.3" fill="#1a1a1a" text-anchor="middle">3</text>
<text transform="translate(398.80,455.83) rotate(-90) scale(1.6,1)" font-size="5.3" fill="#1a1a1a" text-anchor="middle">4</text>
<text transform="translate(398.80,450.17) rotate(-90) scale(1.6,1)" font-size="5.3" fill="#1a1a1a" text-anchor="middle">5</text>
<rect x="407.10" y="472.83" width="1.20" height="5.67" fill="#FDB913" stroke="none" stroke-width="0" fill-opacity="0.5"/>
<rect x="407.75" y="472.83" width="1.20" height="5.67" fill="#4AA1E2" stroke="none" stroke-width="0" fill-opacity="0.5"/>
<rect x="408.22" y="472.83" width="1.20" height="5.67" fill="#4AA1E2" stroke="none" stroke-width="0" fill-opacity="0.5"/>
<rect x="409.00" y="472.83" width="1.20" height="5.67" fill="#7f7f7f" stroke="none" stroke-width="0" fill-opacity="0.5"/>
<rect x="409.42" y="472.83" width="1.20" height="5.67" fill="#4AA1E2" stroke="none" stroke-width="0" fill-opacity="0.5"/>
<rect x="410.06" y="472.83" width="1.20" height="5.67" fill="#FDB913" stroke="none" stroke-width="0" fill-opacity="0.5"/>
<rect x="410.88" y="472.83" width="1.20" height="5.67" fill="#FDB913" stroke="none" stroke-width="0" fill-opacity="0.5"/>
<rect x="411.44" y="472.83" width="1.20" height="5.67" fill="#7f7f7f" stroke="none" stroke-width="0" fill-opacity="0.5"/>
<rect x="412.09" y="472.83" width="1.20" height="5.67" fill="#FDB913" stroke="none" stroke-width="0" fill-opacity="0.5"/>
<rect x="412.57" y="472.83" width="1.20" height="5.67" fill="#FDB913" stroke="none" stroke-width="0" fill-opacity="0.5"/>
<rect x="412.92" y="472.83" width="1.20" height="5.67" fill="#4AA1E2" stroke="none" stroke-width="0" fill-opacity="0.5"/>
<rect x="413.62" y="472.83" width="1.20" height="5.67" fill="#FDB913" stroke="none" stroke-width="0" fill-opacity="0.5"/>
<rect x="414.38" y="472.83" width="1.20" height="5.67" fill="#7f7f7f" stroke="none" stroke-width="0" fill-opacity="0.5"/>
<rect x="414.99" y="472.83" width="1.20" height="5.67" fill="#4AA1E2" stroke="none" stroke-width="0" fill-opacity="0.5"/>
<rect x="415.38" y="472.83" width="1.20" height="5.67" fill="#FDB913" stroke="none" stroke-width="0" fill-opacity="0.5"/>
<rect x="416.21" y="472.83" width="1.20" height="5.67" fill="#FDB913" stroke="none" stroke-width="0" fill-opacity="0.5"/>
<rect x="416.64" y="472.83" width="1.20" height="5.67" fill="#7f7f7f" stroke="none" stroke-width="0" fill-opacity="0.5"/>
<rect x="417.35" y="472.83" width="1.20" height="5.67" fill="#FDB913" stroke="none" stroke-width="0" fill-opacity="0.5"/>
<rect x="417.84" y="472.83" width="1.20" height="5.67" fill="#FDB913" stroke="none" stroke-width="0" fill-opacity="0.5"/>
<rect x="418.30" y="472.83" width="1.20" height="5.67" fill="#FDB913" stroke="none" stroke-width="0" fill-opacity="0.5"/>
<rect x="418.90" y="472.83" width="1.20" height="5.67" fill="#FDB913" stroke="none" stroke-width="0" fill-opacity="0.5"/>
<rect x="419.43" y="472.83" width="1.20" height="5.67" fill="#FDB913" stroke="none" stroke-width="0" fill-opacity="0.5"/>
<rect x="419.81" y="472.83" width="1.20" height="5.67" fill="#FDB913" stroke="none" stroke-width="0" fill-opacity="0.5"/>
<rect x="420.58" y="472.83" width="1.20" height="5.67" fill="#4AA1E2" stroke="none" stroke-width="0" fill-opacity="0.5"/>
<rect x="421.19" y="472.83" width="1.20" height="5.67" fill="#FDB913" stroke="none" stroke-width="0" fill-opacity="0.5"/>
<rect x="421.59" y="472.83" width="1.20" height="5.67" fill="#FDB913" stroke="none" stroke-width="0" fill-opacity="0.5"/>
<rect x="422.08" y="472.83" width="1.20" height="5.67" fill="#FDB913" stroke="none" stroke-width="0" fill-opacity="0.5"/>
<rect x="422.54" y="472.83" width="1.20" height="5.67" fill="#FDB913" stroke="none" stroke-width="0" fill-opacity="0.5"/>
<rect x="422.97" y="472.83" width="1.20" height="5.67" fill="#4AA1E2" stroke="none" stroke-width="0" fill-opacity="0.5"/>
<rect x="423.53" y="472.83" width="1.20" height="5.67" fill="#FDB913" stroke="none" stroke-width="0" fill-opacity="0.5"/>
<rect x="424.03" y="472.83" width="1.20" height="5.67" fill="#FDB913" stroke="none" stroke-width="0" fill-opacity="0.5"/>
<rect x="424.76" y="472.83" width="1.20" height="5.67" fill="#FDB913" stroke="none" stroke-width="0" fill-opacity="0.5"/>
<rect x="425.12" y="472.83" width="1.20" height="5.67" fill="#FDB913" stroke="none" stroke-width="0" fill-opacity="0.5"/>
<rect x="425.64" y="472.83" width="1.20" height="5.67" fill="#4AA1E2" stroke="none" stroke-width="0" fill-opacity="0.5"/>
<rect x="426.02" y="472.83" width="1.20" height="5.67" fill="#7f7f7f" stroke="none" stroke-width="0" fill-opacity="0.5"/>
<rect x="426.35" y="472.83" width="1.20" height="5.67" fill="#FDB913" stroke="none" stroke-width="0" fill-opacity="0.5"/>
<rect x="426.90" y="472.83" width="1.20" height="5.67" fill="#FDB913" stroke="none" stroke-width="0" fill-opacity="0.5"/>
<rect x="427.69" y="472.83" width="1.20" height="5.67" fill="#4AA1E2" stroke="none" stroke-width="0" fill-opacity="0.5"/>
<rect x="428.09" y="472.83" width="1.20" height="5.67" fill="#FDB913" stroke="none" stroke-width="0" fill-opacity="0.5"/>
<rect x="428.73" y="472.83" width="1.20" height="5.67" fill="#FDB913" stroke="none" stroke-width="0" fill-opacity="0.5"/>
<rect x="429.10" y="472.83" width="1.20" height="5.67" fill="#4AA1E2" stroke="none" stroke-width="0" fill-opacity="0.5"/>
<rect x="429.80" y="472.83" width="1.20" height="5.67" fill="#FDB913" stroke="none" stroke-width="0" fill-opacity="0.5"/>
<rect x="430.34" y="472.83" width="1.20" height="5.67" fill="#FDB913" stroke="none" stroke-width="0" fill-opacity="0.5"/>
<rect x="430.80" y="472.83" width="1.20" height="5.67" fill="#7f7f7f" stroke="none" stroke-width="0" fill-opacity="0.5"/>
<rect x="431.62" y="472.83" width="1.20" height="5.67" fill="#FDB913" stroke="none" stroke-width="0" fill-opacity="0.5"/>
<rect x="431.95" y="472.83" width="1.20" height="5.67" fill="#FDB913" stroke="none" stroke-width="0" fill-opacity="0.5"/>
<rect x="432.69" y="472.83" width="1.20" height="5.67" fill="#FDB913" stroke="none" stroke-width="0" fill-opacity="0.5"/>
<rect x="433.07" y="472.83" width="1.20" height="5.67" fill="#FDB913" stroke="none" stroke-width="0" fill-opacity="0.5"/>
<rect x="433.76" y="472.83" width="1.20" height="5.67" fill="#4AA1E2" stroke="none" stroke-width="0" fill-opacity="0.5"/>
<rect x="434.23" y="472.83" width="1.20" height="5.67" fill="#4AA1E2" stroke="none" stroke-width="0" fill-opacity="0.5"/>
<rect x="434.95" y="472.83" width="1.20" height="5.67" fill="#7f7f7f" stroke="none" stroke-width="0" fill-opacity="0.5"/>
<rect x="435.70" y="472.83" width="1.20" height="5.67" fill="#FDB913" stroke="none" stroke-width="0" fill-opacity="0.5"/>
<rect x="436.44" y="472.83" width="1.20" height="5.67" fill="#7f7f7f" stroke="none" stroke-width="0" fill-opacity="0.5"/>
<rect x="437.21" y="472.83" width="1.20" height="5.67" fill="#4AA1E2" stroke="none" stroke-width="0" fill-opacity="0.5"/>
<rect x="437.84" y="472.83" width="1.20" height="5.67" fill="#FDB913" stroke="none" stroke-width="0" fill-opacity="0.5"/>
<rect x="438.60" y="472.83" width="1.20" height="5.67" fill="#4AA1E2" stroke="none" stroke-width="0" fill-opacity="0.5"/>
<rect x="439.30" y="472.83" width="1.20" height="5.67" fill="#FDB913" stroke="none" stroke-width="0" fill-opacity="0.5"/>
<rect x="439.67" y="472.83" width="1.20" height="5.67" fill="#FDB913" stroke="none" stroke-width="0" fill-opacity="0.5"/>
<rect x="440.29" y="472.83" width="1.20" height="5.67" fill="#FDB913" stroke="none" stroke-width="0" fill-opacity="0.5"/>
<rect x="440.72" y="472.83" width="1.20" height="5.67" fill="#FDB913" stroke="none" stroke-width="0" fill-opacity="0.5"/>
<rect x="441.53" y="472.83" width="1.20" height="5.67" fill="#FDB913" stroke="none" stroke-width="0" fill-opacity="0.5"/>
<rect x="442.33" y="472.83" width="1.20" height="5.67" fill="#4AA1E2" stroke="none" stroke-width="0" fill-opacity="0.5"/>
<rect x="442.95" y="472.83" width="1.20" height="5.67" fill="#EA3430" stroke="none" stroke-width="0" fill-opacity="0.5"/>
<rect x="443.63" y="472.83" width="1.20" height="5.67" fill="#FDB913" stroke="none" stroke-width="0" fill-opacity="0.5"/>
<rect x="444.44" y="472.83" width="1.20" height="5.67" fill="#FDB913" stroke="none" stroke-width="0" fill-opacity="0.5"/>
<rect x="445.23" y="472.83" width="1.20" height="5.67" fill="#4AA1E2" stroke="none" stroke-width="0" fill-opacity="0.5"/>
<rect x="445.63" y="472.83" width="1.20" height="5.67" fill="#FDB913" stroke="none" stroke-width="0" fill-opacity="0.5"/>
<rect x="445.96" y="472.83" width="1.20" height="5.67" fill="#4AA1E2" stroke="none" stroke-width="0" fill-opacity="0.5"/>
<rect x="446.69" y="472.83" width="1.20" height="5.67" fill="#FDB913" stroke="none" stroke-width="0" fill-opacity="0.5"/>
<rect x="447.07" y="472.83" width="1.20" height="5.67" fill="#FDB913" stroke="none" stroke-width="0" fill-opacity="0.5"/>
<rect x="447.81" y="472.83" width="1.20" height="5.67" fill="#4AA1E2" stroke="none" stroke-width="0" fill-opacity="0.5"/>
<rect x="448.58" y="472.83" width="1.20" height="5.67" fill="#EA3430" stroke="none" stroke-width="0" fill-opacity="0.5"/>
<rect x="449.29" y="472.83" width="1.20" height="5.67" fill="#4AA1E2" stroke="none" stroke-width="0" fill-opacity="0.5"/>
<rect x="449.63" y="472.83" width="1.20" height="5.67" fill="#FDB913" stroke="none" stroke-width="0" fill-opacity="0.5"/>
<rect x="450.39" y="472.83" width="1.20" height="5.67" fill="#4AA1E2" stroke="none" stroke-width="0" fill-opacity="0.5"/>
<rect x="450.89" y="472.83" width="1.20" height="5.67" fill="#FDB913" stroke="none" stroke-width="0" fill-opacity="0.5"/>
<rect x="451.38" y="472.83" width="1.20" height="5.67" fill="#FDB913" stroke="none" stroke-width="0" fill-opacity="0.5"/>
<rect x="451.96" y="472.83" width="1.20" height="5.67" fill="#FDB913" stroke="none" stroke-width="0" fill-opacity="0.5"/>
<rect x="452.39" y="472.83" width="1.20" height="5.67" fill="#FDB913" stroke="none" stroke-width="0" fill-opacity="0.5"/>
<rect x="452.82" y="472.83" width="1.20" height="5.67" fill="#FDB913" stroke="none" stroke-width="0" fill-opacity="0.5"/>
<rect x="453.19" y="472.83" width="1.20" height="5.67" fill="#FDB913" stroke="none" stroke-width="0" fill-opacity="0.5"/>
<rect x="453.58" y="472.83" width="1.20" height="5.67" fill="#4AA1E2" stroke="none" stroke-width="0" fill-opacity="0.5"/>
<rect x="454.19" y="472.83" width="1.20" height="5.67" fill="#FDB913" stroke="none" stroke-width="0" fill-opacity="0.5"/>
<rect x="454.84" y="472.83" width="1.20" height="5.67" fill="#FDB913" stroke="none" stroke-width="0" fill-opacity="0.5"/>
<rect x="455.17" y="472.83" width="1.20" height="5.67" fill="#FDB913" stroke="none" stroke-width="0" fill-opacity="0.5"/>
<rect x="455.67" y="472.83" width="1.20" height="5.67" fill="#FDB913" stroke="none" stroke-width="0" fill-opacity="0.5"/>
<rect x="456.13" y="472.83" width="1.20" height="5.67" fill="#FDB913" stroke="none" stroke-width="0" fill-opacity="0.5"/>
<rect x="456.88" y="472.83" width="1.20" height="5.67" fill="#FDB913" stroke="none" stroke-width="0" fill-opacity="0.5"/>
<rect x="457.43" y="472.83" width="1.20" height="5.67" fill="#FDB913" stroke="none" stroke-width="0" fill-opacity="0.5"/>
<rect x="457.90" y="472.83" width="1.20" height="5.67" fill="#4AA1E2" stroke="none" stroke-width="0" fill-opacity="0.5"/>
<rect x="458.34" y="472.83" width="1.20" height="5.67" fill="#FDB913" stroke="none" stroke-width="0" fill-opacity="0.5"/>
<rect x="458.75" y="472.83" width="1.20" height="5.67" fill="#EA3430" stroke="none" stroke-width="0" fill-opacity="0.5"/>
<rect x="459.25" y="472.83" width="1.20" height="5.67" fill="#FDB913" stroke="none" stroke-width="0" fill-opacity="0.5"/>
<rect x="460.07" y="472.83" width="1.20" height="5.67" fill="#4AA1E2" stroke="none" stroke-width="0" fill-opacity="0.5"/>
<rect x="460.89" y="472.83" width="1.20" height="5.67" fill="#FDB913" stroke="none" stroke-width="0" fill-opacity="0.5"/>
<rect x="461.63" y="472.83" width="1.20" height="5.67" fill="#FDB913" stroke="none" stroke-width="0" fill-opacity="0.5"/>
<rect x="462.08" y="472.83" width="1.20" height="5.67" fill="#4AA1E2" stroke="none" stroke-width="0" fill-opacity="0.5"/>
<rect x="462.67" y="472.83" width="1.20" height="5.67" fill="#4AA1E2" stroke="none" stroke-width="0" fill-opacity="0.5"/>
<rect x="463.19" y="472.83" width="1.20" height="5.67" fill="#7f7f7f" stroke="none" stroke-width="0" fill-opacity="0.5"/>
<rect x="463.55" y="472.83" width="1.20" height="5.67" fill="#4AA1E2" stroke="none" stroke-width="0" fill-opacity="0.5"/>
<rect x="463.97" y="472.83" width="1.20" height="5.67" fill="#FDB913" stroke="none" stroke-width="0" fill-opacity="0.5"/>
<rect x="464.75" y="472.83" width="1.20" height="5.67" fill="#FDB913" stroke="none" stroke-width="0" fill-opacity="0.5"/>
<rect x="465.50" y="472.83" width="1.20" height="5.67" fill="#FDB913" stroke="none" stroke-width="0" fill-opacity="0.5"/>
<rect x="466.20" y="472.83" width="1.20" height="5.67" fill="#7f7f7f" stroke="none" stroke-width="0" fill-opacity="0.5"/>
<rect x="466.84" y="472.83" width="1.20" height="5.67" fill="#FDB913" stroke="none" stroke-width="0" fill-opacity="0.5"/>
<rect x="467.51" y="472.83" width="1.20" height="5.67" fill="#7f7f7f" stroke="none" stroke-width="0" fill-opacity="0.5"/>
<rect x="468.25" y="472.83" width="1.20" height="5.67" fill="#FDB913" stroke="none" stroke-width="0" fill-opacity="0.5"/>
<rect x="468.78" y="472.83" width="1.20" height="5.67" fill="#FDB913" stroke="none" stroke-width="0" fill-opacity="0.5"/>
<rect x="469.50" y="472.83" width="1.20" height="5.67" fill="#FDB913" stroke="none" stroke-width="0" fill-opacity="0.5"/>
<rect x="469.93" y="472.83" width="1.20" height="5.67" fill="#FDB913" stroke="none" stroke-width="0" fill-opacity="0.5"/>
<rect x="470.34" y="472.83" width="1.20" height="5.67" fill="#FDB913" stroke="none" stroke-width="0" fill-opacity="0.5"/>
<rect x="470.91" y="472.83" width="1.20" height="5.67" fill="#FDB913" stroke="none" stroke-width="0" fill-opacity="0.5"/>
<rect x="471.45" y="472.83" width="1.20" height="5.67" fill="#4AA1E2" stroke="none" stroke-width="0" fill-opacity="0.5"/>
<rect x="507.98" y="472.83" width="1.20" height="5.67" fill="#FDB913" stroke="none" stroke-width="0" fill-opacity="0.5"/>
<rect x="535.43" y="472.83" width="1.20" height="5.67" fill="#7f7f7f" stroke="none" stroke-width="0" fill-opacity="0.5"/>
<rect x="478.06" y="472.83" width="1.20" height="5.67" fill="#4AA1E2" stroke="none" stroke-width="0" fill-opacity="0.5"/>
<rect x="540.64" y="472.83" width="1.20" height="5.67" fill="#7f7f7f" stroke="none" stroke-width="0" fill-opacity="0.5"/>
<rect x="508.57" y="472.83" width="1.20" height="5.67" fill="#7f7f7f" stroke="none" stroke-width="0" fill-opacity="0.5"/>
<rect x="512.46" y="472.83" width="1.20" height="5.67" fill="#FDB913" stroke="none" stroke-width="0" fill-opacity="0.5"/>
<rect x="540.75" y="472.83" width="1.20" height="5.67" fill="#7f7f7f" stroke="none" stroke-width="0" fill-opacity="0.5"/>
<rect x="506.88" y="472.83" width="1.20" height="5.67" fill="#4AA1E2" stroke="none" stroke-width="0" fill-opacity="0.5"/>
<rect x="509.21" y="472.83" width="1.20" height="5.67" fill="#FDB913" stroke="none" stroke-width="0" fill-opacity="0.5"/>
<rect x="491.36" y="472.83" width="1.20" height="5.67" fill="#4AA1E2" stroke="none" stroke-width="0" fill-opacity="0.5"/>
<rect x="535.28" y="472.83" width="1.20" height="5.67" fill="#4AA1E2" stroke="none" stroke-width="0" fill-opacity="0.5"/>
<rect x="489.33" y="472.83" width="1.20" height="5.67" fill="#FDB913" stroke="none" stroke-width="0" fill-opacity="0.5"/>
<rect x="531.32" y="472.83" width="1.20" height="5.67" fill="#FDB913" stroke="none" stroke-width="0" fill-opacity="0.5"/>
<rect x="529.13" y="472.83" width="1.20" height="5.67" fill="#FDB913" stroke="none" stroke-width="0" fill-opacity="0.5"/>
<rect x="532.51" y="472.83" width="1.20" height="5.67" fill="#EA3430" stroke="none" stroke-width="0" fill-opacity="0.5"/>
<rect x="485.22" y="472.83" width="1.20" height="5.67" fill="#7f7f7f" stroke="none" stroke-width="0" fill-opacity="0.5"/>
<rect x="528.87" y="472.83" width="1.20" height="5.67" fill="#4AA1E2" stroke="none" stroke-width="0" fill-opacity="0.5"/>
<rect x="513.49" y="472.83" width="1.20" height="5.67" fill="#FDB913" stroke="none" stroke-width="0" fill-opacity="0.5"/>
<rect x="536.53" y="472.83" width="1.20" height="5.67" fill="#7f7f7f" stroke="none" stroke-width="0" fill-opacity="0.5"/>
<rect x="479.98" y="472.83" width="1.20" height="5.67" fill="#FDB913" stroke="none" stroke-width="0" fill-opacity="0.5"/>
<rect x="493.69" y="472.83" width="1.20" height="5.67" fill="#FDB913" stroke="none" stroke-width="0" fill-opacity="0.5"/>
<rect x="491.18" y="472.83" width="1.20" height="5.67" fill="#4AA1E2" stroke="none" stroke-width="0" fill-opacity="0.5"/>
<rect x="516.84" y="472.83" width="1.20" height="5.67" fill="#7f7f7f" stroke="none" stroke-width="0" fill-opacity="0.5"/>
<rect x="529.12" y="472.83" width="1.20" height="5.67" fill="#4AA1E2" stroke="none" stroke-width="0" fill-opacity="0.5"/>
<rect x="407.40" y="444.50" width="1.20" height="34.00" fill="#4AA1E2" stroke="none" stroke-width="0" fill-opacity="0.5"/>
<rect x="407.60" y="450.17" width="1.20" height="28.33" fill="#FDB913" stroke="none" stroke-width="0" fill-opacity="0.5"/>
<rect x="414.70" y="467.17" width="1.20" height="11.33" fill="#FDB913" stroke="none" stroke-width="0" fill-opacity="0.5"/>
<rect x="417.60" y="467.17" width="1.20" height="11.33" fill="#FDB913" stroke="none" stroke-width="0" fill-opacity="0.5"/>
<rect x="419.00" y="467.17" width="1.20" height="11.33" fill="#FDB913" stroke="none" stroke-width="0" fill-opacity="0.5"/>
<rect x="421.20" y="450.17" width="1.20" height="28.33" fill="#FDB913" stroke="none" stroke-width="0" fill-opacity="0.5"/>
<rect x="422.70" y="467.17" width="1.20" height="11.33" fill="#FDB913" stroke="none" stroke-width="0" fill-opacity="0.5"/>
<rect x="423.80" y="461.50" width="1.20" height="17.00" fill="#FDB913" stroke="none" stroke-width="0" fill-opacity="0.5"/>
<rect x="425.60" y="455.83" width="1.20" height="22.67" fill="#FDB913" stroke="none" stroke-width="0" fill-opacity="0.5"/>
<rect x="426.70" y="455.83" width="1.20" height="22.67" fill="#FDB913" stroke="none" stroke-width="0" fill-opacity="0.5"/>
<rect x="428.50" y="461.50" width="1.20" height="17.00" fill="#FDB913" stroke="none" stroke-width="0" fill-opacity="0.5"/>
<rect x="429.90" y="467.17" width="1.20" height="11.33" fill="#4AA1E2" stroke="none" stroke-width="0" fill-opacity="0.5"/>
<rect x="432.10" y="461.50" width="1.20" height="17.00" fill="#7f7f7f" stroke="none" stroke-width="0" fill-opacity="0.5"/>
<rect x="432.40" y="461.50" width="1.20" height="17.00" fill="#FDB913" stroke="none" stroke-width="0" fill-opacity="0.5"/>
<rect x="434.30" y="467.17" width="1.20" height="11.33" fill="#FDB913" stroke="none" stroke-width="0" fill-opacity="0.5"/>
<rect x="435.80" y="461.50" width="1.20" height="17.00" fill="#4AA1E2" stroke="none" stroke-width="0" fill-opacity="0.5"/>
<rect x="437.50" y="467.17" width="1.20" height="11.33" fill="#FDB913" stroke="none" stroke-width="0" fill-opacity="0.5"/>
<rect x="438.70" y="461.50" width="1.20" height="17.00" fill="#FDB913" stroke="none" stroke-width="0" fill-opacity="0.5"/>
<rect x="440.10" y="455.83" width="1.20" height="22.67" fill="#FDB913" stroke="none" stroke-width="0" fill-opacity="0.5"/>
<rect x="441.60" y="467.17" width="1.20" height="11.33" fill="#FDB913" stroke="none" stroke-width="0" fill-opacity="0.5"/>
<rect x="443.00" y="461.50" width="1.20" height="17.00" fill="#FDB913" stroke="none" stroke-width="0" fill-opacity="0.5"/>
<rect x="445.90" y="467.17" width="1.20" height="11.33" fill="#4AA1E2" stroke="none" stroke-width="0" fill-opacity="0.5"/>
<rect x="456.10" y="467.17" width="1.20" height="11.33" fill="#4AA1E2" stroke="none" stroke-width="0" fill-opacity="0.5"/>
<rect x="457.60" y="467.17" width="1.20" height="11.33" fill="#4AA1E2" stroke="none" stroke-width="0" fill-opacity="0.5"/>
<text x="407.70" y="487.20" font-size="7.0" fill="#262626" text-anchor="middle">0</text>
<text x="440.00" y="487.20" font-size="7.0" fill="#262626" text-anchor="middle">1000</text>
<text x="472.30" y="487.20" font-size="7.0" fill="#262626" text-anchor="middle">2000</text>
<text x="504.60" y="487.20" font-size="7.0" fill="#262626" text-anchor="middle">3000</text>
<text x="536.90" y="487.20" font-size="7.0" fill="#262626" text-anchor="middle">4000</text>
<text x="383.10" y="461.20" font-size="10.3" font-weight="bold" fill="#000" text-anchor="middle" transform="rotate(-90 383.09999999999997 461.2)">n.censor</text>
<text x="471.50" y="496.80" font-size="10.3" font-weight="bold" fill="#000" text-anchor="middle">Time in days</text>
</svg></body></html>
